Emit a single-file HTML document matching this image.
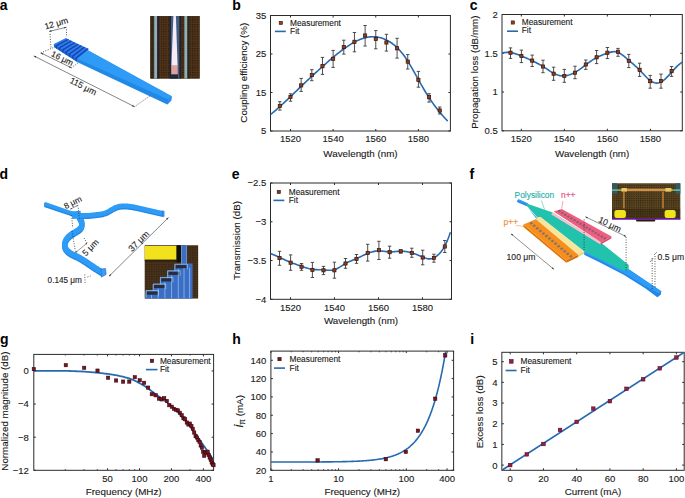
<!DOCTYPE html>
<html><head><meta charset="utf-8"><title>Figure</title>
<style>html,body{margin:0;padding:0;background:#fff;width:685px;height:498px;overflow:hidden;}body{font-family:"Liberation Sans", sans-serif;}text{font-family:"Liberation Sans", sans-serif;}</style></head><body>
<svg width="685" height="498" viewBox="0 0 685 498" font-family='"Liberation Sans", sans-serif' style="display:block">
<rect width="685" height="498" fill="#fff"/>
<polygon points="65.9,38.3 171.7,96.3 171.2,100.6 167.3,104.6 77,62 54.2,47.2 53.8,44.2" fill="#2288e6" stroke="none" stroke-width="0"/>
<polygon points="65.9,38.3 171.7,96.3 168.3,99.6 77,58.5 53.8,44.2" fill="#2e9cf6" stroke="none" stroke-width="0"/>
<polygon points="171.7,96.3 171.2,100.6 167.3,104.6 168.3,99.6" fill="#2890ee" stroke="none" stroke-width="0"/>
<polygon points="65.9,38.3 88.8,49.1 77,58.5 53.8,44.2" fill="#2f7ff0" stroke="none" stroke-width="0"/>
<polygon points="53.8,44.2 77,58.5 77,61.4 54.2,47" fill="#2467d0" stroke="none" stroke-width="0"/>
<polygon points="67.54,39.07 69.07,39.8 57.01,46.18 55.46,45.22" fill="#1846b2" stroke="none" stroke-width="0"/>
<polygon points="55.46,45.22 57.01,46.18 57.01,48.78 55.46,47.82" fill="#1a48b0" stroke="none" stroke-width="0"/>
<polygon points="70.81,40.61 72.34,41.34 60.33,48.22 58.77,47.26" fill="#1846b2" stroke="none" stroke-width="0"/>
<polygon points="58.77,47.26 60.33,48.22 60.33,50.82 58.77,49.86" fill="#1a48b0" stroke="none" stroke-width="0"/>
<polygon points="74.08,42.16 75.62,42.88 63.64,50.27 62.09,49.31" fill="#1846b2" stroke="none" stroke-width="0"/>
<polygon points="62.09,49.31 63.64,50.27 63.64,52.87 62.09,51.91" fill="#1a48b0" stroke="none" stroke-width="0"/>
<polygon points="77.35,43.7 78.89,44.43 66.96,52.31 65.4,51.35" fill="#1846b2" stroke="none" stroke-width="0"/>
<polygon points="65.4,51.35 66.96,52.31 66.96,54.91 65.4,53.95" fill="#1a48b0" stroke="none" stroke-width="0"/>
<polygon points="80.62,45.24 82.16,45.97 70.27,54.35 68.71,53.39" fill="#1846b2" stroke="none" stroke-width="0"/>
<polygon points="68.71,53.39 70.27,54.35 70.27,56.95 68.71,55.99" fill="#1a48b0" stroke="none" stroke-width="0"/>
<polygon points="83.89,46.79 85.43,47.51 73.59,56.4 72.03,55.44" fill="#1846b2" stroke="none" stroke-width="0"/>
<polygon points="72.03,55.44 73.59,56.4 73.59,59 72.03,58.04" fill="#1a48b0" stroke="none" stroke-width="0"/>
<polygon points="87.16,48.33 88.7,49.05 76.9,58.44 75.34,57.48" fill="#1846b2" stroke="none" stroke-width="0"/>
<polygon points="75.34,57.48 76.9,58.44 76.9,61.04 75.34,60.08" fill="#1a48b0" stroke="none" stroke-width="0"/>
<line x1="49.1" y1="31.4" x2="66.6" y2="27.2" stroke="#333" stroke-width="0.6"/>
<polygon points="49.1,31.4 51.63,31.66 51.24,30.02" fill="#333" stroke="none" stroke-width="0"/>
<polygon points="66.6,27.2 64.46,28.58 64.07,26.94" fill="#333" stroke="none" stroke-width="0"/>
<line x1="50" y1="34" x2="51" y2="48" stroke="#333" stroke-width="0.9" stroke-dasharray="0.9 1.6"/>
<line x1="66.5" y1="29.4" x2="66.5" y2="37" stroke="#333" stroke-width="0.9" stroke-dasharray="0.9 1.6"/>
<text transform="translate(57 26.2) rotate(-16)" text-anchor="middle" font-size="8.6" fill="#222" stroke="#222" stroke-width="0.12">12 μm</text>
<line x1="40.8" y1="52.9" x2="71.4" y2="67.8" stroke="#333" stroke-width="0.6"/>
<polygon points="40.8,52.9 42.59,54.71 43.33,53.2" fill="#333" stroke="none" stroke-width="0"/>
<polygon points="71.4,67.8 68.87,67.5 69.61,65.99" fill="#333" stroke="none" stroke-width="0"/>
<line x1="40.8" y1="52.9" x2="53.4" y2="47.6" stroke="#333" stroke-width="0.9" stroke-dasharray="0.9 1.6"/>
<line x1="71.4" y1="67.8" x2="78.5" y2="62.6" stroke="#333" stroke-width="0.9" stroke-dasharray="0.9 1.6"/>
<text transform="translate(61 61) rotate(26)" text-anchor="middle" font-size="8.4" fill="#222" stroke="#222" stroke-width="0.12">16 μm</text>
<line x1="33.8" y1="55.9" x2="134.5" y2="106.7" stroke="#333" stroke-width="0.6"/>
<polygon points="33.8,55.9 35.56,57.73 36.32,56.23" fill="#333" stroke="none" stroke-width="0"/>
<polygon points="134.5,106.7 131.98,106.37 132.74,104.87" fill="#333" stroke="none" stroke-width="0"/>
<line x1="134.5" y1="106.7" x2="150.5" y2="95.5" stroke="#333" stroke-width="0.9" stroke-dasharray="0.9 1.6"/>
<text transform="translate(81.8 89) rotate(27)" text-anchor="middle" font-size="8.8" fill="#222" stroke="#222" stroke-width="0.12">115 μm</text>
<rect x="150.3" y="16.0" width="49.3" height="62.5" fill="#4a3218"/>
<defs><pattern id="tex" width="2.4" height="2.4" patternUnits="userSpaceOnUse"><rect width="2.4" height="2.4" fill="#50341a"/><rect width="1.2" height="1.2" fill="#2a1a0c"/></pattern></defs>
<rect x="150.3" y="16.0" width="49.3" height="62.5" fill="url(#tex)"/>
<rect x="151.5" y="16.0" width="1.2" height="62.5" fill="#1f2a2a"/>
<rect x="154.2" y="16.0" width="2.8" height="62.5" fill="#8fb0b8"/>
<rect x="157.6" y="16.0" width="1.6" height="62.5" fill="#223"/>
<rect x="169.4" y="16.0" width="1.6" height="62.5" fill="#223"/>
<rect x="171.0" y="16.0" width="8.2" height="62.5" fill="#3c5f88"/>
<rect x="179.6" y="16.0" width="1.6" height="62.5" fill="#223"/>
<rect x="184.4" y="16.0" width="2.8" height="62.5" fill="#8fb0b8"/>
<rect x="188.2" y="16.0" width="1.2" height="62.5" fill="#1f2a2a"/>
<polygon points="173.4,16 175.9,16 177.6,65.8 171.4,65.8" fill="#f6eaf4" stroke="none" stroke-width="0"/>
<rect x="171.3" y="65.5" width="6.4" height="9.0" fill="#e0a09c"/>
<rect x="171.0" y="74.5" width="7.0" height="4.0" fill="#1e2a36"/>
<clipPath id="cb"><rect x="270.5" y="15.5" width="179.9" height="115.5"/></clipPath>
<rect x="270.5" y="15.5" width="179.9" height="115.5" fill="none" stroke="#2b2b2b" stroke-width="1"/>
<line x1="290.5" y1="131" x2="290.5" y2="129" stroke="#2b2b2b" stroke-width="1"/>
<line x1="290.5" y1="15.5" x2="290.5" y2="17.5" stroke="#2b2b2b" stroke-width="1"/>
<text transform="translate(290.5 142.3) scale(1 1.0)" font-size="9.5" fill="#1a1a1a" stroke="#1a1a1a" stroke-width="0.12" text-anchor="middle">1520</text>
<line x1="333.13" y1="131" x2="333.13" y2="129" stroke="#2b2b2b" stroke-width="1"/>
<line x1="333.13" y1="15.5" x2="333.13" y2="17.5" stroke="#2b2b2b" stroke-width="1"/>
<text transform="translate(333.13 142.3) scale(1 1.0)" font-size="9.5" fill="#1a1a1a" stroke="#1a1a1a" stroke-width="0.12" text-anchor="middle">1540</text>
<line x1="375.77" y1="131" x2="375.77" y2="129" stroke="#2b2b2b" stroke-width="1"/>
<line x1="375.77" y1="15.5" x2="375.77" y2="17.5" stroke="#2b2b2b" stroke-width="1"/>
<text transform="translate(375.77 142.3) scale(1 1.0)" font-size="9.5" fill="#1a1a1a" stroke="#1a1a1a" stroke-width="0.12" text-anchor="middle">1560</text>
<line x1="418.4" y1="131" x2="418.4" y2="129" stroke="#2b2b2b" stroke-width="1"/>
<line x1="418.4" y1="15.5" x2="418.4" y2="17.5" stroke="#2b2b2b" stroke-width="1"/>
<text transform="translate(418.4 142.3) scale(1 1.0)" font-size="9.5" fill="#1a1a1a" stroke="#1a1a1a" stroke-width="0.12" text-anchor="middle">1580</text>
<line x1="270.5" y1="131" x2="272.5" y2="131" stroke="#2b2b2b" stroke-width="1"/>
<line x1="450.4" y1="131" x2="448.4" y2="131" stroke="#2b2b2b" stroke-width="1"/>
<text transform="translate(266.3 134.4) scale(1 1.0)" font-size="9.5" fill="#1a1a1a" stroke="#1a1a1a" stroke-width="0.12" text-anchor="end">5</text>
<line x1="270.5" y1="92.5" x2="272.5" y2="92.5" stroke="#2b2b2b" stroke-width="1"/>
<line x1="450.4" y1="92.5" x2="448.4" y2="92.5" stroke="#2b2b2b" stroke-width="1"/>
<text transform="translate(266.3 95.9) scale(1 1.0)" font-size="9.5" fill="#1a1a1a" stroke="#1a1a1a" stroke-width="0.12" text-anchor="end">15</text>
<line x1="270.5" y1="54" x2="272.5" y2="54" stroke="#2b2b2b" stroke-width="1"/>
<line x1="450.4" y1="54" x2="448.4" y2="54" stroke="#2b2b2b" stroke-width="1"/>
<text transform="translate(266.3 57.4) scale(1 1.0)" font-size="9.5" fill="#1a1a1a" stroke="#1a1a1a" stroke-width="0.12" text-anchor="end">25</text>
<line x1="270.5" y1="15.5" x2="272.5" y2="15.5" stroke="#2b2b2b" stroke-width="1"/>
<line x1="450.4" y1="15.5" x2="448.4" y2="15.5" stroke="#2b2b2b" stroke-width="1"/>
<text transform="translate(266.3 18.9) scale(1 1.0)" font-size="9.5" fill="#1a1a1a" stroke="#1a1a1a" stroke-width="0.12" text-anchor="end">35</text>
<text transform="translate(360.45 156.5) scale(1 1.0)" font-size="9.8" fill="#1a1a1a" stroke="#1a1a1a" stroke-width="0.12" text-anchor="middle">Wavelength (nm)</text>
<text x="247.3" y="72.65" font-size="9.8" fill="#1a1a1a" stroke="#1a1a1a" stroke-width="0.12" text-anchor="middle" transform="rotate(-90 247.3 72.65)">Coupling efficiency (%)</text>
<path d="M270.5,114.5 L271.99,113.3 L273.48,112.07 L274.97,110.82 L276.46,109.54 L277.95,108.24 L279.43,106.92 L280.92,105.58 L282.41,104.22 L283.9,102.84 L285.39,101.45 L286.88,100.05 L288.37,98.64 L289.86,97.22 L291.35,95.8 L292.84,94.37 L294.33,92.93 L295.81,91.49 L297.3,90.06 L298.79,88.62 L300.28,87.19 L301.77,85.76 L303.26,84.34 L304.75,82.93 L306.24,81.52 L307.73,80.12 L309.22,78.72 L310.71,77.33 L312.19,75.95 L313.68,74.57 L315.17,73.2 L316.66,71.84 L318.15,70.48 L319.64,69.13 L321.13,67.78 L322.62,66.45 L324.11,65.11 L325.6,63.79 L327.08,62.48 L328.57,61.18 L330.06,59.89 L331.55,58.62 L333.04,57.36 L334.53,56.12 L336.02,54.9 L337.51,53.71 L339,52.53 L340.49,51.38 L341.98,50.26 L343.46,49.16 L344.95,48.09 L346.44,47.06 L347.93,46.05 L349.42,45.09 L350.91,44.16 L352.4,43.28 L353.89,42.44 L355.38,41.64 L356.87,40.9 L358.36,40.2 L359.84,39.56 L361.33,38.98 L362.82,38.45 L364.31,37.99 L365.8,37.6 L367.29,37.27 L368.78,37.01 L370.27,36.83 L371.76,36.72 L373.25,36.7 L374.74,36.76 L376.22,36.9 L377.71,37.12 L379.2,37.42 L380.69,37.8 L382.18,38.26 L383.67,38.8 L385.16,39.42 L386.65,40.11 L388.14,40.89 L389.63,41.75 L391.12,42.71 L392.6,43.76 L394.09,44.92 L395.58,46.19 L397.07,47.57 L398.56,49.07 L400.05,50.7 L401.54,52.45 L403.03,54.33 L404.52,56.33 L406.01,58.46 L407.49,60.71 L408.98,63.08 L410.47,65.57 L411.96,68.15 L413.45,70.79 L414.94,73.47 L416.43,76.16 L417.92,78.85 L419.41,81.51 L420.9,84.14 L422.39,86.71 L423.87,89.24 L425.36,91.72 L426.85,94.14 L428.34,96.48 L429.83,98.76 L431.32,100.97 L432.81,103.1 L434.3,105.17 L435.79,107.17 L437.28,109.11 L438.77,110.99 L440.25,112.81 L441.74,114.57 L443.23,116.28 L444.72,117.93 L446.21,119.54 L447.7,121.1" fill="none" stroke="#276aae" stroke-width="1.6" stroke-linejoin="round" clip-path="url(#cb)"/>
<line x1="279.84" y1="101.7" x2="279.84" y2="110.1" stroke="#3a3a3a" stroke-width="0.9"/>
<line x1="278.14" y1="101.7" x2="281.54" y2="101.7" stroke="#3a3a3a" stroke-width="0.9"/>
<line x1="278.14" y1="110.1" x2="281.54" y2="110.1" stroke="#3a3a3a" stroke-width="0.9"/>
<line x1="290.5" y1="93.8" x2="290.5" y2="101.2" stroke="#3a3a3a" stroke-width="0.9"/>
<line x1="288.8" y1="93.8" x2="292.2" y2="93.8" stroke="#3a3a3a" stroke-width="0.9"/>
<line x1="288.8" y1="101.2" x2="292.2" y2="101.2" stroke="#3a3a3a" stroke-width="0.9"/>
<line x1="301.16" y1="78.4" x2="301.16" y2="91.4" stroke="#3a3a3a" stroke-width="0.9"/>
<line x1="299.46" y1="78.4" x2="302.86" y2="78.4" stroke="#3a3a3a" stroke-width="0.9"/>
<line x1="299.46" y1="91.4" x2="302.86" y2="91.4" stroke="#3a3a3a" stroke-width="0.9"/>
<line x1="311.82" y1="69.7" x2="311.82" y2="80.7" stroke="#3a3a3a" stroke-width="0.9"/>
<line x1="310.12" y1="69.7" x2="313.52" y2="69.7" stroke="#3a3a3a" stroke-width="0.9"/>
<line x1="310.12" y1="80.7" x2="313.52" y2="80.7" stroke="#3a3a3a" stroke-width="0.9"/>
<line x1="322.47" y1="57.4" x2="322.47" y2="74.4" stroke="#3a3a3a" stroke-width="0.9"/>
<line x1="320.77" y1="57.4" x2="324.17" y2="57.4" stroke="#3a3a3a" stroke-width="0.9"/>
<line x1="320.77" y1="74.4" x2="324.17" y2="74.4" stroke="#3a3a3a" stroke-width="0.9"/>
<line x1="333.13" y1="50.4" x2="333.13" y2="67.4" stroke="#3a3a3a" stroke-width="0.9"/>
<line x1="331.43" y1="50.4" x2="334.83" y2="50.4" stroke="#3a3a3a" stroke-width="0.9"/>
<line x1="331.43" y1="67.4" x2="334.83" y2="67.4" stroke="#3a3a3a" stroke-width="0.9"/>
<line x1="343.79" y1="40.2" x2="343.79" y2="54.1" stroke="#3a3a3a" stroke-width="0.9"/>
<line x1="342.09" y1="40.2" x2="345.49" y2="40.2" stroke="#3a3a3a" stroke-width="0.9"/>
<line x1="342.09" y1="54.1" x2="345.49" y2="54.1" stroke="#3a3a3a" stroke-width="0.9"/>
<line x1="354.45" y1="32.5" x2="354.45" y2="51.8" stroke="#3a3a3a" stroke-width="0.9"/>
<line x1="352.75" y1="32.5" x2="356.15" y2="32.5" stroke="#3a3a3a" stroke-width="0.9"/>
<line x1="352.75" y1="51.8" x2="356.15" y2="51.8" stroke="#3a3a3a" stroke-width="0.9"/>
<line x1="365.11" y1="25.5" x2="365.11" y2="46" stroke="#3a3a3a" stroke-width="0.9"/>
<line x1="363.41" y1="25.5" x2="366.81" y2="25.5" stroke="#3a3a3a" stroke-width="0.9"/>
<line x1="363.41" y1="46" x2="366.81" y2="46" stroke="#3a3a3a" stroke-width="0.9"/>
<line x1="375.77" y1="30.6" x2="375.77" y2="48.8" stroke="#3a3a3a" stroke-width="0.9"/>
<line x1="374.07" y1="30.6" x2="377.47" y2="30.6" stroke="#3a3a3a" stroke-width="0.9"/>
<line x1="374.07" y1="48.8" x2="377.47" y2="48.8" stroke="#3a3a3a" stroke-width="0.9"/>
<line x1="386.42" y1="34.3" x2="386.42" y2="51.1" stroke="#3a3a3a" stroke-width="0.9"/>
<line x1="384.72" y1="34.3" x2="388.12" y2="34.3" stroke="#3a3a3a" stroke-width="0.9"/>
<line x1="384.72" y1="51.1" x2="388.12" y2="51.1" stroke="#3a3a3a" stroke-width="0.9"/>
<line x1="397.08" y1="38.3" x2="397.08" y2="58.1" stroke="#3a3a3a" stroke-width="0.9"/>
<line x1="395.38" y1="38.3" x2="398.78" y2="38.3" stroke="#3a3a3a" stroke-width="0.9"/>
<line x1="395.38" y1="58.1" x2="398.78" y2="58.1" stroke="#3a3a3a" stroke-width="0.9"/>
<line x1="407.74" y1="54.6" x2="407.74" y2="69" stroke="#3a3a3a" stroke-width="0.9"/>
<line x1="406.04" y1="54.6" x2="409.44" y2="54.6" stroke="#3a3a3a" stroke-width="0.9"/>
<line x1="406.04" y1="69" x2="409.44" y2="69" stroke="#3a3a3a" stroke-width="0.9"/>
<line x1="418.4" y1="71.4" x2="418.4" y2="87.2" stroke="#3a3a3a" stroke-width="0.9"/>
<line x1="416.7" y1="71.4" x2="420.1" y2="71.4" stroke="#3a3a3a" stroke-width="0.9"/>
<line x1="416.7" y1="87.2" x2="420.1" y2="87.2" stroke="#3a3a3a" stroke-width="0.9"/>
<line x1="429.06" y1="93.7" x2="429.06" y2="102.1" stroke="#3a3a3a" stroke-width="0.9"/>
<line x1="427.36" y1="93.7" x2="430.76" y2="93.7" stroke="#3a3a3a" stroke-width="0.9"/>
<line x1="427.36" y1="102.1" x2="430.76" y2="102.1" stroke="#3a3a3a" stroke-width="0.9"/>
<line x1="439.72" y1="107" x2="439.72" y2="114" stroke="#3a3a3a" stroke-width="0.9"/>
<line x1="438.02" y1="107" x2="441.42" y2="107" stroke="#3a3a3a" stroke-width="0.9"/>
<line x1="438.02" y1="114" x2="441.42" y2="114" stroke="#3a3a3a" stroke-width="0.9"/>
<rect x="278.24" y="104.3" width="3.2" height="3.2" fill="#9c3a1c" stroke="#2a140c" stroke-width="0.7"/>
<rect x="288.9" y="95.4" width="3.2" height="3.2" fill="#9c3a1c" stroke="#2a140c" stroke-width="0.7"/>
<rect x="299.56" y="83.8" width="3.2" height="3.2" fill="#9c3a1c" stroke="#2a140c" stroke-width="0.7"/>
<rect x="310.22" y="73.5" width="3.2" height="3.2" fill="#9c3a1c" stroke="#2a140c" stroke-width="0.7"/>
<rect x="320.87" y="64.6" width="3.2" height="3.2" fill="#9c3a1c" stroke="#2a140c" stroke-width="0.7"/>
<rect x="331.53" y="57.2" width="3.2" height="3.2" fill="#9c3a1c" stroke="#2a140c" stroke-width="0.7"/>
<rect x="342.19" y="45.5" width="3.2" height="3.2" fill="#9c3a1c" stroke="#2a140c" stroke-width="0.7"/>
<rect x="352.85" y="40.2" width="3.2" height="3.2" fill="#9c3a1c" stroke="#2a140c" stroke-width="0.7"/>
<rect x="363.51" y="33.9" width="3.2" height="3.2" fill="#9c3a1c" stroke="#2a140c" stroke-width="0.7"/>
<rect x="374.17" y="37.4" width="3.2" height="3.2" fill="#9c3a1c" stroke="#2a140c" stroke-width="0.7"/>
<rect x="384.82" y="40.9" width="3.2" height="3.2" fill="#9c3a1c" stroke="#2a140c" stroke-width="0.7"/>
<rect x="395.48" y="46.7" width="3.2" height="3.2" fill="#9c3a1c" stroke="#2a140c" stroke-width="0.7"/>
<rect x="406.14" y="60" width="3.2" height="3.2" fill="#9c3a1c" stroke="#2a140c" stroke-width="0.7"/>
<rect x="416.8" y="78.2" width="3.2" height="3.2" fill="#9c3a1c" stroke="#2a140c" stroke-width="0.7"/>
<rect x="427.46" y="95.6" width="3.2" height="3.2" fill="#9c3a1c" stroke="#2a140c" stroke-width="0.7"/>
<rect x="438.12" y="108.9" width="3.2" height="3.2" fill="#9c3a1c" stroke="#2a140c" stroke-width="0.7"/>
<rect x="279.2" y="21.3" width="3.2" height="3.2" fill="#9c3a1c" stroke="#2a140c" stroke-width="0.6"/>
<line x1="274.9" y1="31.4" x2="285.8" y2="31.4" stroke="#276aae" stroke-width="1.6"/>
<text x="290.1" y="25.7" font-size="8.3" fill="#1a1a1a" stroke="#1a1a1a" stroke-width="0.12">Measurement</text>
<text x="290.1" y="33.7" font-size="8.3" fill="#1a1a1a" stroke="#1a1a1a" stroke-width="0.12">Fit</text>
<clipPath id="cc"><rect x="502" y="14.5" width="180.3" height="116.3"/></clipPath>
<rect x="502" y="14.5" width="180.3" height="116.3" fill="none" stroke="#2b2b2b" stroke-width="1"/>
<line x1="521.3" y1="130.8" x2="521.3" y2="128.8" stroke="#2b2b2b" stroke-width="1"/>
<line x1="521.3" y1="14.5" x2="521.3" y2="16.5" stroke="#2b2b2b" stroke-width="1"/>
<text transform="translate(521.3 142.3) scale(1 1.0)" font-size="9.5" fill="#1a1a1a" stroke="#1a1a1a" stroke-width="0.12" text-anchor="middle">1520</text>
<line x1="564.33" y1="130.8" x2="564.33" y2="128.8" stroke="#2b2b2b" stroke-width="1"/>
<line x1="564.33" y1="14.5" x2="564.33" y2="16.5" stroke="#2b2b2b" stroke-width="1"/>
<text transform="translate(564.33 142.3) scale(1 1.0)" font-size="9.5" fill="#1a1a1a" stroke="#1a1a1a" stroke-width="0.12" text-anchor="middle">1540</text>
<line x1="607.37" y1="130.8" x2="607.37" y2="128.8" stroke="#2b2b2b" stroke-width="1"/>
<line x1="607.37" y1="14.5" x2="607.37" y2="16.5" stroke="#2b2b2b" stroke-width="1"/>
<text transform="translate(607.37 142.3) scale(1 1.0)" font-size="9.5" fill="#1a1a1a" stroke="#1a1a1a" stroke-width="0.12" text-anchor="middle">1560</text>
<line x1="650.4" y1="130.8" x2="650.4" y2="128.8" stroke="#2b2b2b" stroke-width="1"/>
<line x1="650.4" y1="14.5" x2="650.4" y2="16.5" stroke="#2b2b2b" stroke-width="1"/>
<text transform="translate(650.4 142.3) scale(1 1.0)" font-size="9.5" fill="#1a1a1a" stroke="#1a1a1a" stroke-width="0.12" text-anchor="middle">1580</text>
<line x1="502" y1="130.8" x2="504" y2="130.8" stroke="#2b2b2b" stroke-width="1"/>
<line x1="682.3" y1="130.8" x2="680.3" y2="130.8" stroke="#2b2b2b" stroke-width="1"/>
<text transform="translate(497.8 134.2) scale(1 1.0)" font-size="9.5" fill="#1a1a1a" stroke="#1a1a1a" stroke-width="0.12" text-anchor="end">0.5</text>
<line x1="502" y1="92.03" x2="504" y2="92.03" stroke="#2b2b2b" stroke-width="1"/>
<line x1="682.3" y1="92.03" x2="680.3" y2="92.03" stroke="#2b2b2b" stroke-width="1"/>
<text transform="translate(497.8 95.43) scale(1 1.0)" font-size="9.5" fill="#1a1a1a" stroke="#1a1a1a" stroke-width="0.12" text-anchor="end">1</text>
<line x1="502" y1="53.27" x2="504" y2="53.27" stroke="#2b2b2b" stroke-width="1"/>
<line x1="682.3" y1="53.27" x2="680.3" y2="53.27" stroke="#2b2b2b" stroke-width="1"/>
<text transform="translate(497.8 56.67) scale(1 1.0)" font-size="9.5" fill="#1a1a1a" stroke="#1a1a1a" stroke-width="0.12" text-anchor="end">1.5</text>
<line x1="502" y1="14.5" x2="504" y2="14.5" stroke="#2b2b2b" stroke-width="1"/>
<line x1="682.3" y1="14.5" x2="680.3" y2="14.5" stroke="#2b2b2b" stroke-width="1"/>
<text transform="translate(497.8 17.9) scale(1 1.0)" font-size="9.5" fill="#1a1a1a" stroke="#1a1a1a" stroke-width="0.12" text-anchor="end">2</text>
<text transform="translate(592.15 156.5) scale(1 1.0)" font-size="9.8" fill="#1a1a1a" stroke="#1a1a1a" stroke-width="0.12" text-anchor="middle">Wavelength (nm)</text>
<text x="478.2" y="72.15" font-size="9.8" fill="#1a1a1a" stroke="#1a1a1a" stroke-width="0.12" text-anchor="middle" transform="rotate(-90 478.2 72.15)">Propagation loss (dB/mm)</text>
<path d="M502,53.2 L503.21,52.85 L504.42,52.6 L505.63,52.44 L506.84,52.37 L508.05,52.37 L509.26,52.45 L510.47,52.6 L511.68,52.8 L512.89,53.06 L514.1,53.38 L515.31,53.73 L516.52,54.13 L517.73,54.56 L518.94,55.01 L520.15,55.49 L521.36,55.98 L522.57,56.49 L523.78,57 L524.99,57.52 L526.2,58.06 L527.41,58.59 L528.62,59.14 L529.83,59.7 L531.04,60.26 L532.25,60.82 L533.46,61.4 L534.67,61.98 L535.88,62.58 L537.09,63.19 L538.3,63.82 L539.51,64.47 L540.72,65.15 L541.93,65.85 L543.14,66.59 L544.35,67.36 L545.56,68.15 L546.77,68.95 L547.98,69.75 L549.19,70.55 L550.4,71.33 L551.61,72.07 L552.82,72.77 L554.03,73.43 L555.24,74.02 L556.45,74.54 L557.66,74.99 L558.87,75.35 L560.08,75.62 L561.29,75.79 L562.5,75.86 L563.71,75.85 L564.92,75.76 L566.13,75.59 L567.34,75.36 L568.55,75.05 L569.76,74.69 L570.97,74.27 L572.18,73.78 L573.39,73.23 L574.6,72.62 L575.81,71.93 L577.02,71.19 L578.23,70.4 L579.44,69.56 L580.65,68.69 L581.86,67.79 L583.07,66.88 L584.28,65.95 L585.49,65.03 L586.7,64.12 L587.91,63.22 L589.12,62.34 L590.33,61.49 L591.54,60.66 L592.76,59.87 L593.97,59.11 L595.18,58.39 L596.39,57.71 L597.6,57.09 L598.81,56.5 L600.02,55.96 L601.23,55.45 L602.44,54.97 L603.65,54.52 L604.86,54.08 L606.07,53.66 L607.28,53.24 L608.49,52.83 L609.7,52.45 L610.91,52.11 L612.12,51.85 L613.33,51.69 L614.54,51.65 L615.75,51.76 L616.96,52.03 L618.17,52.47 L619.38,53.05 L620.59,53.76 L621.8,54.58 L623.01,55.48 L624.22,56.44 L625.43,57.46 L626.64,58.51 L627.85,59.57 L629.06,60.62 L630.27,61.66 L631.48,62.68 L632.69,63.7 L633.9,64.73 L635.11,65.78 L636.32,66.86 L637.53,67.98 L638.74,69.14 L639.95,70.36 L641.16,71.63 L642.37,72.94 L643.58,74.25 L644.79,75.56 L646,76.82 L647.21,78.03 L648.42,79.15 L649.63,80.17 L650.84,81.05 L652.05,81.78 L653.26,82.36 L654.47,82.78 L655.68,83.02 L656.89,83.09 L658.1,82.98 L659.31,82.69 L660.52,82.23 L661.73,81.6 L662.94,80.81 L664.15,79.87 L665.36,78.82 L666.57,77.67 L667.78,76.43 L668.99,75.13 L670.2,73.78 L671.41,72.42 L672.62,71.04 L673.83,69.68 L675.04,68.36 L676.25,67.09 L677.46,65.89 L678.67,64.78 L679.88,63.78 L681.09,62.92 L682.3,62.2" fill="none" stroke="#276aae" stroke-width="1.6" stroke-linejoin="round" clip-path="url(#cc)"/>
<line x1="510.5" y1="47.9" x2="510.5" y2="58.4" stroke="#3a3a3a" stroke-width="0.9"/>
<line x1="508.8" y1="47.9" x2="512.2" y2="47.9" stroke="#3a3a3a" stroke-width="0.9"/>
<line x1="508.8" y1="58.4" x2="512.2" y2="58.4" stroke="#3a3a3a" stroke-width="0.9"/>
<line x1="521.4" y1="50.1" x2="521.4" y2="62.6" stroke="#3a3a3a" stroke-width="0.9"/>
<line x1="519.7" y1="50.1" x2="523.1" y2="50.1" stroke="#3a3a3a" stroke-width="0.9"/>
<line x1="519.7" y1="62.6" x2="523.1" y2="62.6" stroke="#3a3a3a" stroke-width="0.9"/>
<line x1="532.2" y1="55.1" x2="532.2" y2="66.5" stroke="#3a3a3a" stroke-width="0.9"/>
<line x1="530.5" y1="55.1" x2="533.9" y2="55.1" stroke="#3a3a3a" stroke-width="0.9"/>
<line x1="530.5" y1="66.5" x2="533.9" y2="66.5" stroke="#3a3a3a" stroke-width="0.9"/>
<line x1="543" y1="60.2" x2="543" y2="72.7" stroke="#3a3a3a" stroke-width="0.9"/>
<line x1="541.3" y1="60.2" x2="544.7" y2="60.2" stroke="#3a3a3a" stroke-width="0.9"/>
<line x1="541.3" y1="72.7" x2="544.7" y2="72.7" stroke="#3a3a3a" stroke-width="0.9"/>
<line x1="553.6" y1="67.2" x2="553.6" y2="80.3" stroke="#3a3a3a" stroke-width="0.9"/>
<line x1="551.9" y1="67.2" x2="555.3" y2="67.2" stroke="#3a3a3a" stroke-width="0.9"/>
<line x1="551.9" y1="80.3" x2="555.3" y2="80.3" stroke="#3a3a3a" stroke-width="0.9"/>
<line x1="564.3" y1="69.4" x2="564.3" y2="82.3" stroke="#3a3a3a" stroke-width="0.9"/>
<line x1="562.6" y1="69.4" x2="566" y2="69.4" stroke="#3a3a3a" stroke-width="0.9"/>
<line x1="562.6" y1="82.3" x2="566" y2="82.3" stroke="#3a3a3a" stroke-width="0.9"/>
<line x1="575" y1="66.2" x2="575" y2="78.7" stroke="#3a3a3a" stroke-width="0.9"/>
<line x1="573.3" y1="66.2" x2="576.7" y2="66.2" stroke="#3a3a3a" stroke-width="0.9"/>
<line x1="573.3" y1="78.7" x2="576.7" y2="78.7" stroke="#3a3a3a" stroke-width="0.9"/>
<line x1="585.8" y1="60" x2="585.8" y2="69.4" stroke="#3a3a3a" stroke-width="0.9"/>
<line x1="584.1" y1="60" x2="587.5" y2="60" stroke="#3a3a3a" stroke-width="0.9"/>
<line x1="584.1" y1="69.4" x2="587.5" y2="69.4" stroke="#3a3a3a" stroke-width="0.9"/>
<line x1="596.6" y1="50.5" x2="596.6" y2="63.6" stroke="#3a3a3a" stroke-width="0.9"/>
<line x1="594.9" y1="50.5" x2="598.3" y2="50.5" stroke="#3a3a3a" stroke-width="0.9"/>
<line x1="594.9" y1="63.6" x2="598.3" y2="63.6" stroke="#3a3a3a" stroke-width="0.9"/>
<line x1="607.4" y1="47.5" x2="607.4" y2="58.6" stroke="#3a3a3a" stroke-width="0.9"/>
<line x1="605.7" y1="47.5" x2="609.1" y2="47.5" stroke="#3a3a3a" stroke-width="0.9"/>
<line x1="605.7" y1="58.6" x2="609.1" y2="58.6" stroke="#3a3a3a" stroke-width="0.9"/>
<line x1="618" y1="48.4" x2="618" y2="56.3" stroke="#3a3a3a" stroke-width="0.9"/>
<line x1="616.3" y1="48.4" x2="619.7" y2="48.4" stroke="#3a3a3a" stroke-width="0.9"/>
<line x1="616.3" y1="56.3" x2="619.7" y2="56.3" stroke="#3a3a3a" stroke-width="0.9"/>
<line x1="628.8" y1="54.4" x2="628.8" y2="67.6" stroke="#3a3a3a" stroke-width="0.9"/>
<line x1="627.1" y1="54.4" x2="630.5" y2="54.4" stroke="#3a3a3a" stroke-width="0.9"/>
<line x1="627.1" y1="67.6" x2="630.5" y2="67.6" stroke="#3a3a3a" stroke-width="0.9"/>
<line x1="639.6" y1="63.2" x2="639.6" y2="76.4" stroke="#3a3a3a" stroke-width="0.9"/>
<line x1="637.9" y1="63.2" x2="641.3" y2="63.2" stroke="#3a3a3a" stroke-width="0.9"/>
<line x1="637.9" y1="76.4" x2="641.3" y2="76.4" stroke="#3a3a3a" stroke-width="0.9"/>
<line x1="650.2" y1="75.4" x2="650.2" y2="88.2" stroke="#3a3a3a" stroke-width="0.9"/>
<line x1="648.5" y1="75.4" x2="651.9" y2="75.4" stroke="#3a3a3a" stroke-width="0.9"/>
<line x1="648.5" y1="88.2" x2="651.9" y2="88.2" stroke="#3a3a3a" stroke-width="0.9"/>
<line x1="661" y1="74.1" x2="661" y2="88.2" stroke="#3a3a3a" stroke-width="0.9"/>
<line x1="659.3" y1="74.1" x2="662.7" y2="74.1" stroke="#3a3a3a" stroke-width="0.9"/>
<line x1="659.3" y1="88.2" x2="662.7" y2="88.2" stroke="#3a3a3a" stroke-width="0.9"/>
<line x1="671.6" y1="66.5" x2="671.6" y2="76.4" stroke="#3a3a3a" stroke-width="0.9"/>
<line x1="669.9" y1="66.5" x2="673.3" y2="66.5" stroke="#3a3a3a" stroke-width="0.9"/>
<line x1="669.9" y1="76.4" x2="673.3" y2="76.4" stroke="#3a3a3a" stroke-width="0.9"/>
<rect x="508.9" y="51.1" width="3.2" height="3.2" fill="#9c3a1c" stroke="#2a140c" stroke-width="0.7"/>
<rect x="519.8" y="54.4" width="3.2" height="3.2" fill="#9c3a1c" stroke="#2a140c" stroke-width="0.7"/>
<rect x="530.6" y="59" width="3.2" height="3.2" fill="#9c3a1c" stroke="#2a140c" stroke-width="0.7"/>
<rect x="541.4" y="64.9" width="3.2" height="3.2" fill="#9c3a1c" stroke="#2a140c" stroke-width="0.7"/>
<rect x="552" y="72.1" width="3.2" height="3.2" fill="#9c3a1c" stroke="#2a140c" stroke-width="0.7"/>
<rect x="562.7" y="74.4" width="3.2" height="3.2" fill="#9c3a1c" stroke="#2a140c" stroke-width="0.7"/>
<rect x="573.4" y="71.1" width="3.2" height="3.2" fill="#9c3a1c" stroke="#2a140c" stroke-width="0.7"/>
<rect x="584.2" y="62.9" width="3.2" height="3.2" fill="#9c3a1c" stroke="#2a140c" stroke-width="0.7"/>
<rect x="595" y="55.7" width="3.2" height="3.2" fill="#9c3a1c" stroke="#2a140c" stroke-width="0.7"/>
<rect x="605.8" y="51.1" width="3.2" height="3.2" fill="#9c3a1c" stroke="#2a140c" stroke-width="0.7"/>
<rect x="616.4" y="50.2" width="3.2" height="3.2" fill="#9c3a1c" stroke="#2a140c" stroke-width="0.7"/>
<rect x="627.2" y="59.3" width="3.2" height="3.2" fill="#9c3a1c" stroke="#2a140c" stroke-width="0.7"/>
<rect x="638" y="68.2" width="3.2" height="3.2" fill="#9c3a1c" stroke="#2a140c" stroke-width="0.7"/>
<rect x="648.6" y="79.6" width="3.2" height="3.2" fill="#9c3a1c" stroke="#2a140c" stroke-width="0.7"/>
<rect x="659.4" y="79.4" width="3.2" height="3.2" fill="#9c3a1c" stroke="#2a140c" stroke-width="0.7"/>
<rect x="670" y="69.5" width="3.2" height="3.2" fill="#9c3a1c" stroke="#2a140c" stroke-width="0.7"/>
<rect x="511.2" y="20.9" width="3.2" height="3.2" fill="#9c3a1c" stroke="#2a140c" stroke-width="0.6"/>
<line x1="507" y1="31.2" x2="518" y2="31.2" stroke="#276aae" stroke-width="1.6"/>
<text x="521.8" y="25.3" font-size="8.3" fill="#1a1a1a" stroke="#1a1a1a" stroke-width="0.12">Measurement</text>
<text x="521.8" y="33.3" font-size="8.3" fill="#1a1a1a" stroke="#1a1a1a" stroke-width="0.12">Fit</text>
<path d="M44.6,203.8 L70.7,212.6 L79,215.2" fill="none" stroke="#2288e6" stroke-width="3.6" stroke-linejoin="round" transform="translate(0 1.5)"/>
<path d="M44.6,203.8 L70.7,212.6 L79,215.2" fill="none" stroke="#2e9cf6" stroke-width="3.6" stroke-linejoin="round"/>
<path d="M78.6,216 L79.27,216.71 L79.9,217.55 L80.46,218.49 L80.95,219.51 L81.35,220.59 L81.65,221.71 L81.82,222.84 L81.87,223.97 L81.77,225.05 L81.51,226.08 L81.07,227.04 L80.46,227.9 L79.72,228.68 L78.87,229.39 L77.97,230.05 L77.04,230.67 L76.11,231.25 L75.18,231.81 L74.26,232.37 L73.34,232.92 L72.44,233.49 L71.54,234.07 L70.67,234.69 L69.82,235.34 L69,236.05 L68.22,236.8 L67.49,237.61 L66.82,238.47 L66.22,239.38 L65.71,240.35 L65.3,241.37 L64.99,242.44 L64.81,243.53 L64.75,244.63 L64.84,245.71 L65.07,246.76 L65.46,247.76 L65.98,248.71 L66.62,249.61 L67.35,250.44 L68.15,251.21 L68.99,251.91 L69.88,252.54 L70.79,253.12 L71.73,253.65 L72.69,254.15 L73.66,254.62 L74.64,255.08 L75.61,255.53 L76.59,255.99 L77.55,256.47 L78.51,256.97 L79.46,257.48 L80.39,258.01 L81.32,258.56 L82.25,259.11 L83.17,259.68 L84.08,260.25 L84.99,260.84 L85.89,261.43 L86.79,262.03 L87.69,262.63 L88.58,263.23 L89.48,263.84 L90.37,264.45 L91.26,265.06 L92.16,265.67 L93.05,266.28 L93.95,266.88 L94.85,267.48 L95.76,268.07 L96.67,268.65 L97.58,269.22 L98.5,269.78 L99.42,270.33 L100.36,270.87 L101.29,271.4 L102.24,271.91 L103.2,272.4" fill="none" stroke="#2288e6" stroke-width="5.6" stroke-linejoin="round" transform="translate(0 1.6)"/>
<path d="M78.6,216 L79.27,216.71 L79.9,217.55 L80.46,218.49 L80.95,219.51 L81.35,220.59 L81.65,221.71 L81.82,222.84 L81.87,223.97 L81.77,225.05 L81.51,226.08 L81.07,227.04 L80.46,227.9 L79.72,228.68 L78.87,229.39 L77.97,230.05 L77.04,230.67 L76.11,231.25 L75.18,231.81 L74.26,232.37 L73.34,232.92 L72.44,233.49 L71.54,234.07 L70.67,234.69 L69.82,235.34 L69,236.05 L68.22,236.8 L67.49,237.61 L66.82,238.47 L66.22,239.38 L65.71,240.35 L65.3,241.37 L64.99,242.44 L64.81,243.53 L64.75,244.63 L64.84,245.71 L65.07,246.76 L65.46,247.76 L65.98,248.71 L66.62,249.61 L67.35,250.44 L68.15,251.21 L68.99,251.91 L69.88,252.54 L70.79,253.12 L71.73,253.65 L72.69,254.15 L73.66,254.62 L74.64,255.08 L75.61,255.53 L76.59,255.99 L77.55,256.47 L78.51,256.97 L79.46,257.48 L80.39,258.01 L81.32,258.56 L82.25,259.11 L83.17,259.68 L84.08,260.25 L84.99,260.84 L85.89,261.43 L86.79,262.03 L87.69,262.63 L88.58,263.23 L89.48,263.84 L90.37,264.45 L91.26,265.06 L92.16,265.67 L93.05,266.28 L93.95,266.88 L94.85,267.48 L95.76,268.07 L96.67,268.65 L97.58,269.22 L98.5,269.78 L99.42,270.33 L100.36,270.87 L101.29,271.4 L102.24,271.91 L103.2,272.4" fill="none" stroke="#2e9cf6" stroke-width="5.6" stroke-linejoin="round"/>
<path d="M78,214.8 L79.11,215.01 L80.22,215.17 L81.33,215.29 L82.44,215.37 L83.54,215.41 L84.64,215.42 L85.75,215.41 L86.85,215.37 L87.95,215.3 L89.05,215.22 L90.15,215.12 L91.26,215.01 L92.36,214.9 L93.47,214.77 L94.58,214.65 L95.7,214.52 L96.81,214.4 L97.93,214.26 L99.04,214.11 L100.14,213.95 L101.24,213.75 L102.33,213.53 L103.4,213.26 L104.46,212.95 L105.5,212.6 L106.52,212.18 L107.52,211.71 L108.51,211.2 L109.48,210.66 L110.45,210.1 L111.42,209.53 L112.38,208.97 L113.36,208.42 L114.34,207.9 L115.34,207.43 L116.35,207 L117.39,206.64 L118.45,206.34 L119.53,206.11 L120.62,205.94 L121.73,205.82 L122.85,205.75 L123.98,205.72 L125.11,205.73 L126.24,205.78 L127.36,205.86 L128.48,205.97 L129.59,206.09 L130.7,206.24 L131.79,206.41 L132.89,206.59 L133.98,206.79 L135.06,207 L136.15,207.22 L137.23,207.45 L138.31,207.69 L139.39,207.93 L140.47,208.18 L141.55,208.42 L142.63,208.67 L143.71,208.92 L144.79,209.18 L145.87,209.43 L146.95,209.68 L148.03,209.94 L149.12,210.19 L150.2,210.45 L151.28,210.7 L152.36,210.95 L153.44,211.2 L154.53,211.45 L155.61,211.69 L156.69,211.94 L157.78,212.17 L158.86,212.41 L159.94,212.64 L161.03,212.86 L162.11,213.08 L163.2,213.3" fill="none" stroke="#2288e6" stroke-width="4.6" stroke-linejoin="round" transform="translate(0 1.4)"/>
<path d="M78,214.8 L79.11,215.01 L80.22,215.17 L81.33,215.29 L82.44,215.37 L83.54,215.41 L84.64,215.42 L85.75,215.41 L86.85,215.37 L87.95,215.3 L89.05,215.22 L90.15,215.12 L91.26,215.01 L92.36,214.9 L93.47,214.77 L94.58,214.65 L95.7,214.52 L96.81,214.4 L97.93,214.26 L99.04,214.11 L100.14,213.95 L101.24,213.75 L102.33,213.53 L103.4,213.26 L104.46,212.95 L105.5,212.6 L106.52,212.18 L107.52,211.71 L108.51,211.2 L109.48,210.66 L110.45,210.1 L111.42,209.53 L112.38,208.97 L113.36,208.42 L114.34,207.9 L115.34,207.43 L116.35,207 L117.39,206.64 L118.45,206.34 L119.53,206.11 L120.62,205.94 L121.73,205.82 L122.85,205.75 L123.98,205.72 L125.11,205.73 L126.24,205.78 L127.36,205.86 L128.48,205.97 L129.59,206.09 L130.7,206.24 L131.79,206.41 L132.89,206.59 L133.98,206.79 L135.06,207 L136.15,207.22 L137.23,207.45 L138.31,207.69 L139.39,207.93 L140.47,208.18 L141.55,208.42 L142.63,208.67 L143.71,208.92 L144.79,209.18 L145.87,209.43 L146.95,209.68 L148.03,209.94 L149.12,210.19 L150.2,210.45 L151.28,210.7 L152.36,210.95 L153.44,211.2 L154.53,211.45 L155.61,211.69 L156.69,211.94 L157.78,212.17 L158.86,212.41 L159.94,212.64 L161.03,212.86 L162.11,213.08 L163.2,213.3" fill="none" stroke="#2e9cf6" stroke-width="4.6" stroke-linejoin="round"/>
<polygon points="71,211.6 80.5,210.8 81.5,218.5 72.5,219" fill="#2e9cf6" stroke="none" stroke-width="0"/>
<polygon points="101,269 105.6,268.4 106.2,274.4 101.4,277.2" fill="#3d9cf2" stroke="#1f5fc0" stroke-width="0.5"/>
<polygon points="162.4,210.8 164.2,211.2 164.2,216.4 162.4,216.4" fill="#3d9cf2" stroke="#1f5fc0" stroke-width="0.4"/>
<polygon points="44,202.6 45,203 45,206.6 44,206.2" fill="#3d9cf2" stroke="none" stroke-width="0"/>
<line x1="70.1" y1="209.3" x2="78.3" y2="205.2" stroke="#333" stroke-width="0.5"/>
<polygon points="70.1,209.3 71.99,209.06 71.43,207.93" fill="#333" stroke="none" stroke-width="0"/>
<polygon points="78.3,205.2 76.97,206.57 76.41,205.44" fill="#333" stroke="none" stroke-width="0"/>
<text transform="translate(74 205) rotate(-27)" text-anchor="middle" font-size="8.4" fill="#222" stroke="#222" stroke-width="0.12">8 μm</text>
<line x1="71.7" y1="215.4" x2="72.7" y2="228" stroke="#333" stroke-width="0.9" stroke-dasharray="0.9 1.6"/>
<line x1="78.3" y1="207.8" x2="79.3" y2="219.5" stroke="#333" stroke-width="0.9" stroke-dasharray="0.9 1.6"/>
<line x1="75.6" y1="252.6" x2="87.1" y2="243" stroke="#333" stroke-width="0.5"/>
<polygon points="75.6,252.6 77.39,251.93 76.58,250.96" fill="#333" stroke="none" stroke-width="0"/>
<polygon points="87.1,243 86.12,244.64 85.31,243.67" fill="#333" stroke="none" stroke-width="0"/>
<line x1="72" y1="231" x2="75.6" y2="252.6" stroke="#333" stroke-width="0.9" stroke-dasharray="0.9 1.6"/>
<line x1="87.1" y1="243" x2="84" y2="238" stroke="#333" stroke-width="0.9" stroke-dasharray="0.9 1.6"/>
<text transform="translate(92.5 249.6) rotate(-45)" text-anchor="middle" font-size="8.6" fill="#222" stroke="#222" stroke-width="0.12">5 μm</text>
<line x1="109" y1="276.3" x2="168.5" y2="217.5" stroke="#333" stroke-width="0.6"/>
<polygon points="109,276.3 111.3,275.21 110.12,274.02" fill="#333" stroke="none" stroke-width="0"/>
<polygon points="168.5,217.5 167.38,219.78 166.2,218.59" fill="#333" stroke="none" stroke-width="0"/>
<text transform="translate(140.8 243.4) rotate(-45)" text-anchor="middle" font-size="9.0" fill="#222" stroke="#222" stroke-width="0.12">37 μm</text>
<text x="47.6" y="283.4" font-size="8.2" fill="#222" stroke="#222" stroke-width="0.12">0.145 μm</text>
<line x1="84.8" y1="274.5" x2="85.2" y2="284.5" stroke="#333" stroke-width="0.9" stroke-dasharray="0.9 1.6"/>
<line x1="87.5" y1="277" x2="90.5" y2="276" stroke="#333" stroke-width="0.9" stroke-dasharray="0.9 1.6"/>
<rect x="144.8" y="245.4" width="53.3" height="53" fill="#3e2f1c"/>
<rect x="144.8" y="245.4" width="53.3" height="53" fill="url(#tex)" opacity="0.6"/>
<rect x="144.8" y="246.0" width="31.9" height="14.5" fill="#f2e21e"/>
<rect x="176.7" y="245.4" width="3.2" height="17" fill="#111"/>
<rect x="176.7" y="245.4" width="4.8" height="16.5" fill="#120d06"/>
<rect x="144.8" y="259.6" width="32.4" height="1.8" fill="#2a1c0a"/>
<polygon points="145.3,298.4 146,290.6 153.2,290.6 153.2,284 160.4,284 160.4,277.4 167.6,277.4 167.6,270.8 174.8,270.8 174.8,264.2 181.5,264.2 181.5,245.4 186.6,245.4 186.6,263.6 192.6,263.6 192.6,298.4" fill="#3d6ec6" stroke="none" stroke-width="0"/>
<rect x="146.8" y="291.5" width="11" height="3.2" fill="#2b2a38"/>
<path d="M146,297.6 V290.6 H158.5 V295.6" fill="none" stroke="#8cc8f2" stroke-width="0.8"/>
<rect x="154" y="284.9" width="11" height="3.2" fill="#2b2a38"/>
<path d="M153.2,291 V284 H165.7 V289" fill="none" stroke="#8cc8f2" stroke-width="0.8"/>
<rect x="161.2" y="278.3" width="11" height="3.2" fill="#2b2a38"/>
<path d="M160.4,284.4 V277.4 H172.9 V282.4" fill="none" stroke="#8cc8f2" stroke-width="0.8"/>
<rect x="168.4" y="271.7" width="11" height="3.2" fill="#2b2a38"/>
<path d="M167.6,277.8 V270.8 H180.1 V275.8" fill="none" stroke="#8cc8f2" stroke-width="0.8"/>
<rect x="175.6" y="265.1" width="11" height="3.2" fill="#2b2a38"/>
<path d="M174.8,271.2 V264.2 H187.3 V269.2" fill="none" stroke="#8cc8f2" stroke-width="0.8"/>
<line x1="151.5" y1="295.1" x2="151.5" y2="298.4" stroke="#a8d8f6" stroke-width="0.6"/>
<line x1="158.2" y1="288.5" x2="158.2" y2="298.4" stroke="#a8d8f6" stroke-width="0.6"/>
<line x1="164.9" y1="281.9" x2="164.9" y2="298.4" stroke="#a8d8f6" stroke-width="0.6"/>
<line x1="171.6" y1="275.3" x2="171.6" y2="298.4" stroke="#a8d8f6" stroke-width="0.6"/>
<line x1="178.3" y1="268.7" x2="178.3" y2="298.4" stroke="#a8d8f6" stroke-width="0.6"/>
<line x1="184" y1="268.1" x2="184" y2="298.4" stroke="#a8d8f6" stroke-width="0.6"/>
<line x1="189.6" y1="268.1" x2="189.6" y2="298.4" stroke="#a8d8f6" stroke-width="0.6"/>
<path d="M181.5,245.4 V263.6 M186.6,245.4 V263.6" stroke="#8cc8f2" stroke-width="0.6"/>
<clipPath id="ce"><rect x="270.5" y="183" width="181" height="116.3"/></clipPath>
<rect x="270.5" y="183" width="181" height="116.3" fill="none" stroke="#2b2b2b" stroke-width="1"/>
<line x1="290.5" y1="299.3" x2="290.5" y2="297.3" stroke="#2b2b2b" stroke-width="1"/>
<line x1="290.5" y1="183" x2="290.5" y2="185" stroke="#2b2b2b" stroke-width="1"/>
<text transform="translate(290.5 310.5) scale(1 1.0)" font-size="9.5" fill="#1a1a1a" stroke="#1a1a1a" stroke-width="0.12" text-anchor="middle">1520</text>
<line x1="334.5" y1="299.3" x2="334.5" y2="297.3" stroke="#2b2b2b" stroke-width="1"/>
<line x1="334.5" y1="183" x2="334.5" y2="185" stroke="#2b2b2b" stroke-width="1"/>
<text transform="translate(334.5 310.5) scale(1 1.0)" font-size="9.5" fill="#1a1a1a" stroke="#1a1a1a" stroke-width="0.12" text-anchor="middle">1540</text>
<line x1="378.5" y1="299.3" x2="378.5" y2="297.3" stroke="#2b2b2b" stroke-width="1"/>
<line x1="378.5" y1="183" x2="378.5" y2="185" stroke="#2b2b2b" stroke-width="1"/>
<text transform="translate(378.5 310.5) scale(1 1.0)" font-size="9.5" fill="#1a1a1a" stroke="#1a1a1a" stroke-width="0.12" text-anchor="middle">1560</text>
<line x1="422.5" y1="299.3" x2="422.5" y2="297.3" stroke="#2b2b2b" stroke-width="1"/>
<line x1="422.5" y1="183" x2="422.5" y2="185" stroke="#2b2b2b" stroke-width="1"/>
<text transform="translate(422.5 310.5) scale(1 1.0)" font-size="9.5" fill="#1a1a1a" stroke="#1a1a1a" stroke-width="0.12" text-anchor="middle">1580</text>
<line x1="270.5" y1="183" x2="272.5" y2="183" stroke="#2b2b2b" stroke-width="1"/>
<line x1="451.5" y1="183" x2="449.5" y2="183" stroke="#2b2b2b" stroke-width="1"/>
<text transform="translate(266.3 186.4) scale(1 1.0)" font-size="9.5" fill="#1a1a1a" stroke="#1a1a1a" stroke-width="0.12" text-anchor="end">−2.5</text>
<line x1="270.5" y1="221.77" x2="272.5" y2="221.77" stroke="#2b2b2b" stroke-width="1"/>
<line x1="451.5" y1="221.77" x2="449.5" y2="221.77" stroke="#2b2b2b" stroke-width="1"/>
<text transform="translate(266.3 225.17) scale(1 1.0)" font-size="9.5" fill="#1a1a1a" stroke="#1a1a1a" stroke-width="0.12" text-anchor="end">−3</text>
<line x1="270.5" y1="260.53" x2="272.5" y2="260.53" stroke="#2b2b2b" stroke-width="1"/>
<line x1="451.5" y1="260.53" x2="449.5" y2="260.53" stroke="#2b2b2b" stroke-width="1"/>
<text transform="translate(266.3 263.93) scale(1 1.0)" font-size="9.5" fill="#1a1a1a" stroke="#1a1a1a" stroke-width="0.12" text-anchor="end">−3.5</text>
<line x1="270.5" y1="299.3" x2="272.5" y2="299.3" stroke="#2b2b2b" stroke-width="1"/>
<line x1="451.5" y1="299.3" x2="449.5" y2="299.3" stroke="#2b2b2b" stroke-width="1"/>
<text transform="translate(266.3 302.7) scale(1 1.0)" font-size="9.5" fill="#1a1a1a" stroke="#1a1a1a" stroke-width="0.12" text-anchor="end">−4</text>
<text transform="translate(361 324) scale(1 1.0)" font-size="9.8" fill="#1a1a1a" stroke="#1a1a1a" stroke-width="0.12" text-anchor="middle">Wavelength (nm)</text>
<text x="240.5" y="240.55" font-size="9.8" fill="#1a1a1a" stroke="#1a1a1a" stroke-width="0.12" text-anchor="middle" transform="rotate(-90 240.5 240.55)">Transmission (dB)</text>
<path d="M270.5,253.4 L271.71,253.91 L272.91,254.43 L274.12,254.96 L275.33,255.5 L276.54,256.05 L277.74,256.6 L278.95,257.15 L280.16,257.7 L281.37,258.26 L282.57,258.81 L283.78,259.35 L284.99,259.9 L286.2,260.43 L287.4,260.96 L288.61,261.48 L289.82,261.98 L291.03,262.47 L292.23,262.95 L293.44,263.41 L294.65,263.87 L295.86,264.31 L297.06,264.75 L298.27,265.18 L299.48,265.6 L300.68,266.02 L301.89,266.43 L303.1,266.85 L304.31,267.25 L305.51,267.64 L306.72,268 L307.93,268.35 L309.14,268.66 L310.34,268.93 L311.55,269.16 L312.76,269.35 L313.97,269.49 L315.17,269.58 L316.38,269.65 L317.59,269.7 L318.8,269.73 L320,269.76 L321.21,269.79 L322.42,269.84 L323.62,269.91 L324.83,270 L326.04,270.11 L327.25,270.21 L328.45,270.29 L329.66,270.32 L330.87,270.29 L332.08,270.19 L333.28,269.99 L334.49,269.67 L335.7,269.23 L336.91,268.68 L338.11,268.05 L339.32,267.35 L340.53,266.6 L341.74,265.83 L342.94,265.05 L344.15,264.3 L345.36,263.58 L346.57,262.92 L347.77,262.31 L348.98,261.75 L350.19,261.22 L351.39,260.71 L352.6,260.22 L353.81,259.73 L355.02,259.23 L356.22,258.72 L357.43,258.18 L358.64,257.62 L359.85,257.05 L361.05,256.46 L362.26,255.88 L363.47,255.29 L364.68,254.73 L365.88,254.18 L367.09,253.65 L368.3,253.16 L369.51,252.71 L370.71,252.3 L371.92,251.94 L373.13,251.62 L374.33,251.36 L375.54,251.15 L376.75,251.01 L377.96,250.92 L379.16,250.9 L380.37,250.95 L381.58,251.04 L382.79,251.17 L383.99,251.33 L385.2,251.49 L386.41,251.64 L387.62,251.77 L388.82,251.87 L390.03,251.91 L391.24,251.9 L392.45,251.84 L393.65,251.75 L394.86,251.64 L396.07,251.52 L397.28,251.4 L398.48,251.3 L399.69,251.23 L400.9,251.2 L402.1,251.21 L403.31,251.28 L404.52,251.39 L405.73,251.54 L406.93,251.73 L408.14,251.97 L409.35,252.24 L410.56,252.55 L411.76,252.89 L412.97,253.26 L414.18,253.66 L415.39,254.09 L416.59,254.53 L417.8,255 L419.01,255.48 L420.22,255.97 L421.42,256.47 L422.63,256.97 L423.84,257.47 L425.04,257.94 L426.25,258.35 L427.46,258.67 L428.67,258.86 L429.87,258.89 L431.08,258.75 L432.29,258.45 L433.5,257.98 L434.7,257.37 L435.91,256.61 L437.12,255.73 L438.33,254.71 L439.53,253.53 L440.74,252.17 L441.95,250.61 L443.16,248.83 L444.36,246.8 L445.57,244.5 L446.78,241.92 L447.99,239.02 L449.19,235.8 L450.4,232.22" fill="none" stroke="#276aae" stroke-width="1.6" stroke-linejoin="round" clip-path="url(#ce)"/>
<line x1="279.5" y1="251.3" x2="279.5" y2="265.3" stroke="#3a3a3a" stroke-width="0.9"/>
<line x1="277.8" y1="251.3" x2="281.2" y2="251.3" stroke="#3a3a3a" stroke-width="0.9"/>
<line x1="277.8" y1="265.3" x2="281.2" y2="265.3" stroke="#3a3a3a" stroke-width="0.9"/>
<line x1="290.6" y1="254.9" x2="290.6" y2="270.3" stroke="#3a3a3a" stroke-width="0.9"/>
<line x1="288.9" y1="254.9" x2="292.3" y2="254.9" stroke="#3a3a3a" stroke-width="0.9"/>
<line x1="288.9" y1="270.3" x2="292.3" y2="270.3" stroke="#3a3a3a" stroke-width="0.9"/>
<line x1="301.5" y1="263.5" x2="301.5" y2="270.3" stroke="#3a3a3a" stroke-width="0.9"/>
<line x1="299.8" y1="263.5" x2="303.2" y2="263.5" stroke="#3a3a3a" stroke-width="0.9"/>
<line x1="299.8" y1="270.3" x2="303.2" y2="270.3" stroke="#3a3a3a" stroke-width="0.9"/>
<line x1="312.4" y1="262.4" x2="312.4" y2="277.5" stroke="#3a3a3a" stroke-width="0.9"/>
<line x1="310.7" y1="262.4" x2="314.1" y2="262.4" stroke="#3a3a3a" stroke-width="0.9"/>
<line x1="310.7" y1="277.5" x2="314.1" y2="277.5" stroke="#3a3a3a" stroke-width="0.9"/>
<line x1="323.5" y1="266.4" x2="323.5" y2="274.6" stroke="#3a3a3a" stroke-width="0.9"/>
<line x1="321.8" y1="266.4" x2="325.2" y2="266.4" stroke="#3a3a3a" stroke-width="0.9"/>
<line x1="321.8" y1="274.6" x2="325.2" y2="274.6" stroke="#3a3a3a" stroke-width="0.9"/>
<line x1="334.4" y1="262.2" x2="334.4" y2="278.2" stroke="#3a3a3a" stroke-width="0.9"/>
<line x1="332.7" y1="262.2" x2="336.1" y2="262.2" stroke="#3a3a3a" stroke-width="0.9"/>
<line x1="332.7" y1="278.2" x2="336.1" y2="278.2" stroke="#3a3a3a" stroke-width="0.9"/>
<line x1="345.5" y1="258.5" x2="345.5" y2="268.3" stroke="#3a3a3a" stroke-width="0.9"/>
<line x1="343.8" y1="258.5" x2="347.2" y2="258.5" stroke="#3a3a3a" stroke-width="0.9"/>
<line x1="343.8" y1="268.3" x2="347.2" y2="268.3" stroke="#3a3a3a" stroke-width="0.9"/>
<line x1="356.5" y1="254.5" x2="356.5" y2="263.3" stroke="#3a3a3a" stroke-width="0.9"/>
<line x1="354.8" y1="254.5" x2="358.2" y2="254.5" stroke="#3a3a3a" stroke-width="0.9"/>
<line x1="354.8" y1="263.3" x2="358.2" y2="263.3" stroke="#3a3a3a" stroke-width="0.9"/>
<line x1="367.7" y1="244.3" x2="367.7" y2="261.1" stroke="#3a3a3a" stroke-width="0.9"/>
<line x1="366" y1="244.3" x2="369.4" y2="244.3" stroke="#3a3a3a" stroke-width="0.9"/>
<line x1="366" y1="261.1" x2="369.4" y2="261.1" stroke="#3a3a3a" stroke-width="0.9"/>
<line x1="378.9" y1="241.3" x2="378.9" y2="259.5" stroke="#3a3a3a" stroke-width="0.9"/>
<line x1="377.2" y1="241.3" x2="380.6" y2="241.3" stroke="#3a3a3a" stroke-width="0.9"/>
<line x1="377.2" y1="259.5" x2="380.6" y2="259.5" stroke="#3a3a3a" stroke-width="0.9"/>
<line x1="389.6" y1="246.2" x2="389.6" y2="258.2" stroke="#3a3a3a" stroke-width="0.9"/>
<line x1="387.9" y1="246.2" x2="391.3" y2="246.2" stroke="#3a3a3a" stroke-width="0.9"/>
<line x1="387.9" y1="258.2" x2="391.3" y2="258.2" stroke="#3a3a3a" stroke-width="0.9"/>
<line x1="400.7" y1="250" x2="400.7" y2="253.1" stroke="#3a3a3a" stroke-width="0.9"/>
<line x1="399" y1="250" x2="402.4" y2="250" stroke="#3a3a3a" stroke-width="0.9"/>
<line x1="399" y1="253.1" x2="402.4" y2="253.1" stroke="#3a3a3a" stroke-width="0.9"/>
<line x1="411.8" y1="248.2" x2="411.8" y2="257.3" stroke="#3a3a3a" stroke-width="0.9"/>
<line x1="410.1" y1="248.2" x2="413.5" y2="248.2" stroke="#3a3a3a" stroke-width="0.9"/>
<line x1="410.1" y1="257.3" x2="413.5" y2="257.3" stroke="#3a3a3a" stroke-width="0.9"/>
<line x1="422.7" y1="250.2" x2="422.7" y2="264.8" stroke="#3a3a3a" stroke-width="0.9"/>
<line x1="421" y1="250.2" x2="424.4" y2="250.2" stroke="#3a3a3a" stroke-width="0.9"/>
<line x1="421" y1="264.8" x2="424.4" y2="264.8" stroke="#3a3a3a" stroke-width="0.9"/>
<line x1="433.9" y1="254.2" x2="433.9" y2="262.2" stroke="#3a3a3a" stroke-width="0.9"/>
<line x1="432.2" y1="254.2" x2="435.6" y2="254.2" stroke="#3a3a3a" stroke-width="0.9"/>
<line x1="432.2" y1="262.2" x2="435.6" y2="262.2" stroke="#3a3a3a" stroke-width="0.9"/>
<line x1="444.8" y1="240.5" x2="444.8" y2="252.5" stroke="#3a3a3a" stroke-width="0.9"/>
<line x1="443.1" y1="240.5" x2="446.5" y2="240.5" stroke="#3a3a3a" stroke-width="0.9"/>
<line x1="443.1" y1="252.5" x2="446.5" y2="252.5" stroke="#3a3a3a" stroke-width="0.9"/>
<rect x="277.9" y="256.5" width="3.2" height="3.2" fill="#9c3a1c" stroke="#2a140c" stroke-width="0.7"/>
<rect x="289" y="261.1" width="3.2" height="3.2" fill="#9c3a1c" stroke="#2a140c" stroke-width="0.7"/>
<rect x="299.9" y="265.1" width="3.2" height="3.2" fill="#9c3a1c" stroke="#2a140c" stroke-width="0.7"/>
<rect x="310.8" y="268.3" width="3.2" height="3.2" fill="#9c3a1c" stroke="#2a140c" stroke-width="0.7"/>
<rect x="321.9" y="268.7" width="3.2" height="3.2" fill="#9c3a1c" stroke="#2a140c" stroke-width="0.7"/>
<rect x="332.8" y="268.7" width="3.2" height="3.2" fill="#9c3a1c" stroke="#2a140c" stroke-width="0.7"/>
<rect x="343.9" y="261.9" width="3.2" height="3.2" fill="#9c3a1c" stroke="#2a140c" stroke-width="0.7"/>
<rect x="354.9" y="257.3" width="3.2" height="3.2" fill="#9c3a1c" stroke="#2a140c" stroke-width="0.7"/>
<rect x="366.1" y="251.3" width="3.2" height="3.2" fill="#9c3a1c" stroke="#2a140c" stroke-width="0.7"/>
<rect x="377.3" y="248.6" width="3.2" height="3.2" fill="#9c3a1c" stroke="#2a140c" stroke-width="0.7"/>
<rect x="388" y="250.6" width="3.2" height="3.2" fill="#9c3a1c" stroke="#2a140c" stroke-width="0.7"/>
<rect x="399.1" y="249.7" width="3.2" height="3.2" fill="#9c3a1c" stroke="#2a140c" stroke-width="0.7"/>
<rect x="410.2" y="251.3" width="3.2" height="3.2" fill="#9c3a1c" stroke="#2a140c" stroke-width="0.7"/>
<rect x="421.1" y="255.9" width="3.2" height="3.2" fill="#9c3a1c" stroke="#2a140c" stroke-width="0.7"/>
<rect x="432.3" y="256.3" width="3.2" height="3.2" fill="#9c3a1c" stroke="#2a140c" stroke-width="0.7"/>
<rect x="443.2" y="244.9" width="3.2" height="3.2" fill="#9c3a1c" stroke="#2a140c" stroke-width="0.7"/>
<rect x="277.2" y="190.4" width="3.2" height="3.2" fill="#7a3a28" stroke="#2a140c" stroke-width="0.6"/>
<line x1="273.4" y1="200.4" x2="284.3" y2="200.4" stroke="#276aae" stroke-width="1.6"/>
<text x="288.8" y="194.6" font-size="8.3" fill="#1a1a1a" stroke="#1a1a1a" stroke-width="0.12">Measurement</text>
<text x="288.8" y="203.2" font-size="8.3" fill="#1a1a1a" stroke="#1a1a1a" stroke-width="0.12">Fit</text>
<polygon points="584.2,251.4 629.1,269.4 661.3,291.2 660.6,294.6 657.3,297.2 645.2,288.2 624.1,275.1 600,262.4 584.2,254.8" fill="#2288e6" stroke="none" stroke-width="0"/>
<polygon points="584.2,251.4 629.1,269.4 661.3,291.2 659,293.6 645.2,286 624.1,273.2 600,260.6 584.2,253.2" fill="#2e9cf6" stroke="none" stroke-width="0"/>
<polygon points="661.3,291.2 660.6,294.6 657.3,297.2 659,293.6" fill="#2a84e2" stroke="none" stroke-width="0"/>
<path d="M518.6,201.0 L527.0,204.6" stroke="#2288e6" stroke-width="3.0" stroke-linecap="round"/>
<path d="M518.8,200.4 L527.0,204.0" stroke="#2e9cf6" stroke-width="1.6" stroke-linecap="round"/>
<polygon points="525.6,204.6 527,206.6 537.8,219 536.2,218.6" fill="#2a7de0" stroke="none" stroke-width="0"/>
<polygon points="526,203.2 552.6,212.4 601.4,243 628.8,265 628.6,270.4 623,270.4 584.2,251.4 540.4,217 537.4,217.4 526.6,205.4" fill="#22c2ad" stroke="none" stroke-width="0"/>
<polygon points="552.4,212.6 601,242.2 600.4,244.4 551.4,214.6" fill="#f6c2cc" stroke="none" stroke-width="0"/>
<polygon points="553.6,211.4 561.8,209 611.6,236.4 601,242.2" fill="#ef5d82" stroke="none" stroke-width="0"/>
<polygon points="611.6,236.4 611.2,238.4 600.6,244.6 601,242.2" fill="#d8486c" stroke="none" stroke-width="0"/>
<polygon points="557.62,211.01 559.82,209.81 561.02,211.31 558.82,212.51" fill="#8a5f6c" stroke="none" stroke-width="0"/>
<polygon points="560.66,212.83 562.86,211.63 564.06,213.13 561.86,214.33" fill="#8a5f6c" stroke="none" stroke-width="0"/>
<polygon points="563.69,214.65 565.89,213.45 567.09,214.95 564.89,216.15" fill="#8a5f6c" stroke="none" stroke-width="0"/>
<polygon points="566.73,216.47 568.93,215.27 570.13,216.77 567.93,217.97" fill="#8a5f6c" stroke="none" stroke-width="0"/>
<polygon points="569.77,218.28 571.97,217.08 573.17,218.58 570.97,219.78" fill="#8a5f6c" stroke="none" stroke-width="0"/>
<polygon points="572.81,220.1 575.01,218.9 576.21,220.4 574.01,221.6" fill="#8a5f6c" stroke="none" stroke-width="0"/>
<polygon points="575.84,221.92 578.04,220.72 579.24,222.22 577.04,223.42" fill="#8a5f6c" stroke="none" stroke-width="0"/>
<polygon points="578.88,223.74 581.08,222.54 582.28,224.04 580.08,225.24" fill="#8a5f6c" stroke="none" stroke-width="0"/>
<polygon points="581.92,225.56 584.12,224.36 585.32,225.86 583.12,227.06" fill="#8a5f6c" stroke="none" stroke-width="0"/>
<polygon points="584.96,227.38 587.16,226.18 588.36,227.68 586.16,228.88" fill="#8a5f6c" stroke="none" stroke-width="0"/>
<polygon points="587.99,229.2 590.19,228 591.39,229.5 589.19,230.7" fill="#8a5f6c" stroke="none" stroke-width="0"/>
<polygon points="591.03,231.02 593.23,229.82 594.43,231.32 592.23,232.52" fill="#8a5f6c" stroke="none" stroke-width="0"/>
<polygon points="594.07,232.83 596.27,231.63 597.47,233.13 595.27,234.33" fill="#8a5f6c" stroke="none" stroke-width="0"/>
<polygon points="597.11,234.65 599.31,233.45 600.51,234.95 598.31,236.15" fill="#8a5f6c" stroke="none" stroke-width="0"/>
<polygon points="600.14,236.47 602.34,235.27 603.54,236.77 601.34,237.97" fill="#8a5f6c" stroke="none" stroke-width="0"/>
<polygon points="603.18,238.29 605.38,237.09 606.58,238.59 604.38,239.79" fill="#8a5f6c" stroke="none" stroke-width="0"/>
<polygon points="534.4,219.4 540.4,217 584.2,251.4 578.2,254.8" fill="#f7e59c" stroke="none" stroke-width="0"/>
<polygon points="578.2,254.8 584.2,251.4 584.2,253.4 578.4,256.8" fill="#e8d080" stroke="none" stroke-width="0"/>
<polygon points="523.4,224.6 566.2,260.4 566.3,262.8 523.2,226.8" fill="#e07400" stroke="none" stroke-width="0"/>
<polygon points="523.4,224.6 535.8,219.2 578.2,254.8 566.2,260.4" fill="#f78f1e" stroke="none" stroke-width="0"/>
<polygon points="578.2,254.8 578.2,257 566.3,262.8 566.2,260.4" fill="#d86c00" stroke="none" stroke-width="0"/>
<polygon points="529.42,223.07 531.82,221.77 533.02,223.57 530.62,224.77" fill="#85746a" stroke="none" stroke-width="0"/>
<polygon points="532.46,225.61 534.86,224.31 536.06,226.11 533.66,227.31" fill="#85746a" stroke="none" stroke-width="0"/>
<polygon points="535.51,228.16 537.91,226.86 539.11,228.66 536.71,229.86" fill="#85746a" stroke="none" stroke-width="0"/>
<polygon points="538.55,230.7 540.95,229.4 542.15,231.2 539.75,232.4" fill="#85746a" stroke="none" stroke-width="0"/>
<polygon points="541.59,233.24 543.99,231.94 545.19,233.74 542.79,234.94" fill="#85746a" stroke="none" stroke-width="0"/>
<polygon points="544.64,235.79 547.04,234.49 548.24,236.29 545.84,237.49" fill="#85746a" stroke="none" stroke-width="0"/>
<polygon points="547.68,238.33 550.08,237.03 551.28,238.83 548.88,240.03" fill="#85746a" stroke="none" stroke-width="0"/>
<polygon points="550.72,240.87 553.12,239.57 554.32,241.37 551.92,242.57" fill="#85746a" stroke="none" stroke-width="0"/>
<polygon points="553.76,243.41 556.16,242.11 557.36,243.91 554.96,245.11" fill="#85746a" stroke="none" stroke-width="0"/>
<polygon points="556.81,245.96 559.21,244.66 560.41,246.46 558.01,247.66" fill="#85746a" stroke="none" stroke-width="0"/>
<polygon points="559.85,248.5 562.25,247.2 563.45,249 561.05,250.2" fill="#85746a" stroke="none" stroke-width="0"/>
<polygon points="562.89,251.04 565.29,249.74 566.49,251.54 564.09,252.74" fill="#85746a" stroke="none" stroke-width="0"/>
<polygon points="565.94,253.59 568.34,252.29 569.54,254.09 567.14,255.29" fill="#85746a" stroke="none" stroke-width="0"/>
<polygon points="568.98,256.13 571.38,254.83 572.58,256.63 570.18,257.83" fill="#85746a" stroke="none" stroke-width="0"/>
<text x="514.6" y="198.4" font-size="8.4" fill="#23b0a6" stroke="#23b0a6" stroke-width="0.12">Polysilicon</text>
<text x="561" y="198.4" font-size="8.4" fill="#e8457a" stroke="#e8457a" stroke-width="0.12">n++</text>
<text x="503.6" y="224.6" font-size="8.4" fill="#f08a30" stroke="#f08a30" stroke-width="0.12">p++</text>
<line x1="541.4" y1="200.4" x2="544.6" y2="209.6" stroke="#23b0a6" stroke-width="0.5"/>
<line x1="563" y1="200.8" x2="561.6" y2="208.6" stroke="#e8457a" stroke-width="0.5"/>
<line x1="515.8" y1="225.4" x2="525" y2="226.6" stroke="#f08a30" stroke-width="0.5"/>
<text x="506.6" y="260.2" font-size="8.6" fill="#222" stroke="#222" stroke-width="0.12">100 μm</text>
<line x1="511" y1="233.8" x2="553.9" y2="269.3" stroke="#333" stroke-width="0.55"/>
<polygon points="511,233.8 512.2,235.8 513.19,234.61" fill="#333" stroke="none" stroke-width="0"/>
<polygon points="553.9,269.3 551.71,268.49 552.7,267.3" fill="#333" stroke="none" stroke-width="0"/>
<line x1="585.4" y1="216.8" x2="626.1" y2="236.5" stroke="#333" stroke-width="0.55"/>
<polygon points="585.4,216.8 587.04,218.45 587.72,217.07" fill="#333" stroke="none" stroke-width="0"/>
<polygon points="626.1,236.5 623.78,236.23 624.46,234.85" fill="#333" stroke="none" stroke-width="0"/>
<text transform="translate(608.6 227) rotate(26)" text-anchor="middle" font-size="8.6" fill="#222" stroke="#222" stroke-width="0.12">10 μm</text>
<line x1="584.1" y1="219.4" x2="584.1" y2="250" stroke="#333" stroke-width="0.9" stroke-dasharray="0.9 1.6"/>
<line x1="626.1" y1="237" x2="626.1" y2="272" stroke="#333" stroke-width="0.9" stroke-dasharray="0.9 1.6"/>
<text x="657.6" y="260.2" font-size="8.6" fill="#222" stroke="#222" stroke-width="0.12">0.5 μm</text>
<line x1="652.2" y1="258" x2="652.2" y2="289" stroke="#333" stroke-width="0.9" stroke-dasharray="0.9 1.6"/>
<line x1="655" y1="256" x2="655" y2="288" stroke="#333" stroke-width="0.9" stroke-dasharray="0.9 1.6"/>
<line x1="650" y1="262" x2="653" y2="258.5" stroke="#333" stroke-width="0.5"/>
<line x1="657" y1="252" x2="654" y2="255" stroke="#333" stroke-width="0.5"/>
<defs><pattern id="tex2" width="2.2" height="2.2" patternUnits="userSpaceOnUse"><rect width="2.2" height="2.2" fill="#5a4520"/><rect width="1.1" height="1.1" fill="#2c2010"/></pattern></defs>
<rect x="612.0" y="183.3" width="68.3" height="36.2" fill="url(#tex2)"/>
<rect x="612.0" y="183.3" width="5.0" height="10.5" fill="#2e5a66"/>
<rect x="675.6" y="183.3" width="4.7" height="10.5" fill="#2e5a66"/>
<rect x="612.0" y="189.4" width="10" height="1.4" fill="#7cc890"/>
<rect x="671.0" y="189.4" width="9.3" height="1.4" fill="#7cc890"/>
<rect x="621.5" y="188.6" width="50" height="2.6" fill="#d0904a"/>
<rect x="621.5" y="188.0" width="5.4" height="3.6" fill="#e8c860"/>
<rect x="665.4" y="188.0" width="6.0" height="3.6" fill="#e8c860"/>
<rect x="623.2" y="191.5" width="1.4" height="17" fill="#c8843a"/>
<rect x="662.3" y="191.5" width="1.4" height="17" fill="#c8843a"/>
<rect x="612.0" y="208.6" width="68.3" height="9.8" fill="#2a1c08" opacity="0.35"/>
<rect x="614.4" y="210.0" width="11.5" height="8.0" rx="2.5" fill="#f2e41a"/>
<rect x="664.6" y="210.0" width="11.1" height="8.0" rx="2.5" fill="#f2e41a"/>
<rect x="612.0" y="218.0" width="68.3" height="1.5" fill="#6a10b0"/>
<path d="M635.6 219.5 L636.6 221.6 L654.6 221.6 L655.6 219.5 Z" fill="#2a1a08"/>
<clipPath id="cg"><rect x="33.8" y="354.4" width="179.8" height="115.9"/></clipPath>
<rect x="33.8" y="354.4" width="179.8" height="115.9" fill="none" stroke="#2b2b2b" stroke-width="1"/>
<line x1="107.56" y1="470.3" x2="107.56" y2="468.3" stroke="#2b2b2b" stroke-width="1"/>
<line x1="107.56" y1="354.4" x2="107.56" y2="356.4" stroke="#2b2b2b" stroke-width="1"/>
<text transform="translate(107.56 482) scale(1 1.0)" font-size="9.5" fill="#1a1a1a" stroke="#1a1a1a" stroke-width="0.12" text-anchor="middle">50</text>
<line x1="139.5" y1="470.3" x2="139.5" y2="468.3" stroke="#2b2b2b" stroke-width="1"/>
<line x1="139.5" y1="354.4" x2="139.5" y2="356.4" stroke="#2b2b2b" stroke-width="1"/>
<text transform="translate(139.5 482) scale(1 1.0)" font-size="9.5" fill="#1a1a1a" stroke="#1a1a1a" stroke-width="0.12" text-anchor="middle">100</text>
<line x1="171.44" y1="470.3" x2="171.44" y2="468.3" stroke="#2b2b2b" stroke-width="1"/>
<line x1="171.44" y1="354.4" x2="171.44" y2="356.4" stroke="#2b2b2b" stroke-width="1"/>
<text transform="translate(171.44 482) scale(1 1.0)" font-size="9.5" fill="#1a1a1a" stroke="#1a1a1a" stroke-width="0.12" text-anchor="middle">200</text>
<line x1="203.38" y1="470.3" x2="203.38" y2="468.3" stroke="#2b2b2b" stroke-width="1"/>
<line x1="203.38" y1="354.4" x2="203.38" y2="356.4" stroke="#2b2b2b" stroke-width="1"/>
<text transform="translate(203.38 482) scale(1 1.0)" font-size="9.5" fill="#1a1a1a" stroke="#1a1a1a" stroke-width="0.12" text-anchor="middle">400</text>
<line x1="65.34" y1="470.3" x2="65.34" y2="469.1" stroke="#2b2b2b" stroke-width="0.8"/>
<line x1="65.34" y1="354.4" x2="65.34" y2="355.6" stroke="#2b2b2b" stroke-width="0.8"/>
<line x1="84.02" y1="470.3" x2="84.02" y2="469.1" stroke="#2b2b2b" stroke-width="0.8"/>
<line x1="84.02" y1="354.4" x2="84.02" y2="355.6" stroke="#2b2b2b" stroke-width="0.8"/>
<line x1="97.28" y1="470.3" x2="97.28" y2="469.1" stroke="#2b2b2b" stroke-width="0.8"/>
<line x1="97.28" y1="354.4" x2="97.28" y2="355.6" stroke="#2b2b2b" stroke-width="0.8"/>
<line x1="115.96" y1="470.3" x2="115.96" y2="469.1" stroke="#2b2b2b" stroke-width="0.8"/>
<line x1="115.96" y1="354.4" x2="115.96" y2="355.6" stroke="#2b2b2b" stroke-width="0.8"/>
<line x1="123.06" y1="470.3" x2="123.06" y2="469.1" stroke="#2b2b2b" stroke-width="0.8"/>
<line x1="123.06" y1="354.4" x2="123.06" y2="355.6" stroke="#2b2b2b" stroke-width="0.8"/>
<line x1="129.22" y1="470.3" x2="129.22" y2="469.1" stroke="#2b2b2b" stroke-width="0.8"/>
<line x1="129.22" y1="354.4" x2="129.22" y2="355.6" stroke="#2b2b2b" stroke-width="0.8"/>
<line x1="134.65" y1="470.3" x2="134.65" y2="469.1" stroke="#2b2b2b" stroke-width="0.8"/>
<line x1="134.65" y1="354.4" x2="134.65" y2="355.6" stroke="#2b2b2b" stroke-width="0.8"/>
<line x1="190.12" y1="470.3" x2="190.12" y2="469.1" stroke="#2b2b2b" stroke-width="0.8"/>
<line x1="190.12" y1="354.4" x2="190.12" y2="355.6" stroke="#2b2b2b" stroke-width="0.8"/>
<line x1="33.8" y1="370.96" x2="35.8" y2="370.96" stroke="#2b2b2b" stroke-width="1"/>
<line x1="213.6" y1="370.96" x2="211.6" y2="370.96" stroke="#2b2b2b" stroke-width="1"/>
<text transform="translate(28.8 374.36) scale(1 1.0)" font-size="9.5" fill="#1a1a1a" stroke="#1a1a1a" stroke-width="0.12" text-anchor="end">0</text>
<line x1="33.8" y1="404.07" x2="35.8" y2="404.07" stroke="#2b2b2b" stroke-width="1"/>
<line x1="213.6" y1="404.07" x2="211.6" y2="404.07" stroke="#2b2b2b" stroke-width="1"/>
<text transform="translate(28.8 407.47) scale(1 1.0)" font-size="9.5" fill="#1a1a1a" stroke="#1a1a1a" stroke-width="0.12" text-anchor="end">−4</text>
<line x1="33.8" y1="437.19" x2="35.8" y2="437.19" stroke="#2b2b2b" stroke-width="1"/>
<line x1="213.6" y1="437.19" x2="211.6" y2="437.19" stroke="#2b2b2b" stroke-width="1"/>
<text transform="translate(28.8 440.59) scale(1 1.0)" font-size="9.5" fill="#1a1a1a" stroke="#1a1a1a" stroke-width="0.12" text-anchor="end">−8</text>
<line x1="33.8" y1="470.3" x2="35.8" y2="470.3" stroke="#2b2b2b" stroke-width="1"/>
<line x1="213.6" y1="470.3" x2="211.6" y2="470.3" stroke="#2b2b2b" stroke-width="1"/>
<text transform="translate(28.8 473.7) scale(1 1.0)" font-size="9.5" fill="#1a1a1a" stroke="#1a1a1a" stroke-width="0.12" text-anchor="end">−12</text>
<text transform="translate(123.7 494.6) scale(1 1.0)" font-size="9.8" fill="#1a1a1a" stroke="#1a1a1a" stroke-width="0.12" text-anchor="middle">Frequency (MHz)</text>
<text x="8.3" y="411.05" font-size="9.8" fill="#1a1a1a" stroke="#1a1a1a" stroke-width="0.12" text-anchor="middle" transform="rotate(-90 8.3 411.05)">Normalized magnitude (dB)</text>
<path d="M33.8,370.8 L35.31,370.8 L36.82,370.8 L38.33,370.8 L39.84,370.8 L41.35,370.8 L42.87,370.8 L44.38,370.8 L45.89,370.8 L47.4,370.8 L48.91,370.8 L50.42,370.8 L51.93,370.8 L53.44,370.8 L54.95,370.8 L56.46,370.8 L57.97,370.8 L59.49,370.8 L61,370.8 L62.51,370.81 L64.02,370.83 L65.53,370.86 L67.04,370.9 L68.55,370.94 L70.06,370.99 L71.57,371.05 L73.08,371.11 L74.59,371.17 L76.11,371.23 L77.62,371.3 L79.13,371.36 L80.64,371.43 L82.15,371.51 L83.66,371.59 L85.17,371.69 L86.68,371.79 L88.19,371.91 L89.7,372.03 L91.22,372.16 L92.73,372.29 L94.24,372.43 L95.75,372.58 L97.26,372.72 L98.77,372.88 L100.28,373.03 L101.79,373.19 L103.3,373.37 L104.81,373.55 L106.32,373.75 L107.84,373.96 L109.35,374.18 L110.86,374.4 L112.37,374.64 L113.88,374.89 L115.39,375.16 L116.9,375.44 L118.41,375.73 L119.92,376.05 L121.43,376.38 L122.94,376.74 L124.46,377.12 L125.97,377.53 L127.48,377.97 L128.99,378.45 L130.5,378.97 L132.01,379.52 L133.52,380.12 L135.03,380.77 L136.54,381.55 L138.05,382.4 L139.56,383.26 L141.08,384.08 L142.59,384.9 L144.1,385.75 L145.61,386.65 L147.12,387.66 L148.63,388.79 L150.14,389.96 L151.65,391.14 L153.16,392.28 L154.67,393.43 L156.18,394.57 L157.7,395.68 L159.21,396.74 L160.72,397.76 L162.23,398.78 L163.74,399.84 L165.25,400.97 L166.76,402.14 L168.27,403.37 L169.78,404.63 L171.29,405.93 L172.81,407.28 L174.32,408.67 L175.83,410.13 L177.34,411.66 L178.85,413.26 L180.36,414.92 L181.87,416.63 L183.38,418.36 L184.89,420.14 L186.4,421.97 L187.91,423.84 L189.43,425.77 L190.94,427.76 L192.45,429.8 L193.96,431.86 L195.47,433.93 L196.98,436.03 L198.49,438.15 L200,440.29 L201.51,442.45 L203.02,444.64 L204.53,446.83 L206.05,449 L207.56,451.19 L209.07,453.4 L210.58,455.65 L212.09,457.93 L213.6,460.25" fill="none" stroke="#276aae" stroke-width="1.8" stroke-linejoin="round" clip-path="url(#cg)"/>
<g fill="#7a1222" stroke="#2a0508" stroke-width="0.5">
<rect x="32.15" y="367.45" width="3.3" height="3.3"/>
<rect x="64.15" y="363.55" width="3.3" height="3.3"/>
<rect x="82.55" y="366.15" width="3.3" height="3.3"/>
<rect x="95.85" y="368.95" width="3.3" height="3.3"/>
<rect x="106.45" y="376.05" width="3.3" height="3.3"/>
<rect x="114.45" y="378.85" width="3.3" height="3.3"/>
<rect x="121.45" y="379.95" width="3.3" height="3.3"/>
<rect x="127.65" y="379.95" width="3.3" height="3.3"/>
<rect x="133.15" y="375.55" width="3.3" height="3.3"/>
<rect x="138.05" y="378.65" width="3.3" height="3.3"/>
<rect x="142.45" y="381.15" width="3.3" height="3.3"/>
<rect x="146.45" y="385.95" width="3.3" height="3.3"/>
<rect x="150.15" y="392.55" width="3.3" height="3.3"/>
<rect x="153.95" y="393.65" width="3.3" height="3.3"/>
<rect x="157.25" y="397.05" width="3.3" height="3.3"/>
<rect x="159.95" y="397.75" width="3.3" height="3.3"/>
<rect x="162.55" y="396.45" width="3.3" height="3.3"/>
<rect x="165.15" y="399.25" width="3.3" height="3.3"/>
<rect x="167.65" y="403.55" width="3.3" height="3.3"/>
<rect x="170.15" y="405.05" width="3.3" height="3.3"/>
<rect x="172.35" y="407.25" width="3.3" height="3.3"/>
<rect x="174.35" y="408.15" width="3.3" height="3.3"/>
<rect x="176.35" y="408.75" width="3.3" height="3.3"/>
<rect x="178.25" y="411.15" width="3.3" height="3.3"/>
<rect x="180.05" y="413.55" width="3.3" height="3.3"/>
<rect x="181.85" y="416.65" width="3.3" height="3.3"/>
<rect x="183.45" y="417.55" width="3.3" height="3.3"/>
<rect x="185.15" y="420.85" width="3.3" height="3.3"/>
<rect x="186.75" y="422.85" width="3.3" height="3.3"/>
<rect x="188.25" y="421.95" width="3.3" height="3.3"/>
<rect x="189.75" y="424.35" width="3.3" height="3.3"/>
<rect x="191.15" y="427.15" width="3.3" height="3.3"/>
<rect x="192.55" y="430.85" width="3.3" height="3.3"/>
<rect x="193.95" y="434.55" width="3.3" height="3.3"/>
<rect x="195.25" y="435.85" width="3.3" height="3.3"/>
<rect x="196.55" y="438.35" width="3.3" height="3.3"/>
<rect x="197.85" y="440.25" width="3.3" height="3.3"/>
<rect x="199.05" y="443.85" width="3.3" height="3.3"/>
<rect x="200.25" y="446.15" width="3.3" height="3.3"/>
<rect x="201.45" y="450.15" width="3.3" height="3.3"/>
<rect x="202.55" y="454.15" width="3.3" height="3.3"/>
<rect x="203.75" y="450.55" width="3.3" height="3.3"/>
<rect x="204.85" y="451.15" width="3.3" height="3.3"/>
<rect x="205.95" y="450.05" width="3.3" height="3.3"/>
<rect x="206.95" y="453.35" width="3.3" height="3.3"/>
<rect x="208.05" y="455.85" width="3.3" height="3.3"/>
<rect x="209.05" y="458.15" width="3.3" height="3.3"/>
<rect x="210.05" y="460.85" width="3.3" height="3.3"/>
<rect x="211.05" y="462.65" width="3.3" height="3.3"/>
<rect x="211.85" y="463.55" width="3.3" height="3.3"/>
</g>
<rect x="150.4" y="359.2" width="3.2" height="3.2" fill="#7a1222" stroke="#2a0508" stroke-width="0.6"/>
<line x1="146" y1="369.6" x2="157.5" y2="369.6" stroke="#276aae" stroke-width="1.6"/>
<text x="159.9" y="363.9" font-size="8.3" fill="#1a1a1a" stroke="#1a1a1a" stroke-width="0.12">Measurement</text>
<text x="159.9" y="372.4" font-size="8.3" fill="#1a1a1a" stroke="#1a1a1a" stroke-width="0.12">Fit</text>
<clipPath id="ch"><rect x="270.9" y="351.1" width="182.7" height="119.2"/></clipPath>
<rect x="270.9" y="351.1" width="182.7" height="119.2" fill="none" stroke="#2b2b2b" stroke-width="1"/>
<line x1="270.9" y1="470.3" x2="270.9" y2="468.3" stroke="#2b2b2b" stroke-width="1"/>
<line x1="270.9" y1="351.1" x2="270.9" y2="353.1" stroke="#2b2b2b" stroke-width="1"/>
<text transform="translate(270.9 482) scale(1 1.0)" font-size="9.5" fill="#1a1a1a" stroke="#1a1a1a" stroke-width="0.12" text-anchor="middle">1</text>
<line x1="338.6" y1="470.3" x2="338.6" y2="468.3" stroke="#2b2b2b" stroke-width="1"/>
<line x1="338.6" y1="351.1" x2="338.6" y2="353.1" stroke="#2b2b2b" stroke-width="1"/>
<text transform="translate(338.6 482) scale(1 1.0)" font-size="9.5" fill="#1a1a1a" stroke="#1a1a1a" stroke-width="0.12" text-anchor="middle">10</text>
<line x1="406.3" y1="470.3" x2="406.3" y2="468.3" stroke="#2b2b2b" stroke-width="1"/>
<line x1="406.3" y1="351.1" x2="406.3" y2="353.1" stroke="#2b2b2b" stroke-width="1"/>
<text transform="translate(406.3 482) scale(1 1.0)" font-size="9.5" fill="#1a1a1a" stroke="#1a1a1a" stroke-width="0.12" text-anchor="middle">100</text>
<line x1="447.06" y1="470.3" x2="447.06" y2="468.3" stroke="#2b2b2b" stroke-width="1"/>
<line x1="447.06" y1="351.1" x2="447.06" y2="353.1" stroke="#2b2b2b" stroke-width="1"/>
<text transform="translate(447.06 482) scale(1 1.0)" font-size="9.5" fill="#1a1a1a" stroke="#1a1a1a" stroke-width="0.12" text-anchor="middle">400</text>
<line x1="291.28" y1="470.3" x2="291.28" y2="469.1" stroke="#2b2b2b" stroke-width="0.8"/>
<line x1="291.28" y1="351.1" x2="291.28" y2="352.3" stroke="#2b2b2b" stroke-width="0.8"/>
<line x1="303.2" y1="470.3" x2="303.2" y2="469.1" stroke="#2b2b2b" stroke-width="0.8"/>
<line x1="303.2" y1="351.1" x2="303.2" y2="352.3" stroke="#2b2b2b" stroke-width="0.8"/>
<line x1="311.66" y1="470.3" x2="311.66" y2="469.1" stroke="#2b2b2b" stroke-width="0.8"/>
<line x1="311.66" y1="351.1" x2="311.66" y2="352.3" stroke="#2b2b2b" stroke-width="0.8"/>
<line x1="318.22" y1="470.3" x2="318.22" y2="469.1" stroke="#2b2b2b" stroke-width="0.8"/>
<line x1="318.22" y1="351.1" x2="318.22" y2="352.3" stroke="#2b2b2b" stroke-width="0.8"/>
<line x1="323.58" y1="470.3" x2="323.58" y2="469.1" stroke="#2b2b2b" stroke-width="0.8"/>
<line x1="323.58" y1="351.1" x2="323.58" y2="352.3" stroke="#2b2b2b" stroke-width="0.8"/>
<line x1="328.11" y1="470.3" x2="328.11" y2="469.1" stroke="#2b2b2b" stroke-width="0.8"/>
<line x1="328.11" y1="351.1" x2="328.11" y2="352.3" stroke="#2b2b2b" stroke-width="0.8"/>
<line x1="332.04" y1="470.3" x2="332.04" y2="469.1" stroke="#2b2b2b" stroke-width="0.8"/>
<line x1="332.04" y1="351.1" x2="332.04" y2="352.3" stroke="#2b2b2b" stroke-width="0.8"/>
<line x1="335.5" y1="470.3" x2="335.5" y2="469.1" stroke="#2b2b2b" stroke-width="0.8"/>
<line x1="335.5" y1="351.1" x2="335.5" y2="352.3" stroke="#2b2b2b" stroke-width="0.8"/>
<line x1="358.98" y1="470.3" x2="358.98" y2="469.1" stroke="#2b2b2b" stroke-width="0.8"/>
<line x1="358.98" y1="351.1" x2="358.98" y2="352.3" stroke="#2b2b2b" stroke-width="0.8"/>
<line x1="370.9" y1="470.3" x2="370.9" y2="469.1" stroke="#2b2b2b" stroke-width="0.8"/>
<line x1="370.9" y1="351.1" x2="370.9" y2="352.3" stroke="#2b2b2b" stroke-width="0.8"/>
<line x1="379.36" y1="470.3" x2="379.36" y2="469.1" stroke="#2b2b2b" stroke-width="0.8"/>
<line x1="379.36" y1="351.1" x2="379.36" y2="352.3" stroke="#2b2b2b" stroke-width="0.8"/>
<line x1="385.92" y1="470.3" x2="385.92" y2="469.1" stroke="#2b2b2b" stroke-width="0.8"/>
<line x1="385.92" y1="351.1" x2="385.92" y2="352.3" stroke="#2b2b2b" stroke-width="0.8"/>
<line x1="391.28" y1="470.3" x2="391.28" y2="469.1" stroke="#2b2b2b" stroke-width="0.8"/>
<line x1="391.28" y1="351.1" x2="391.28" y2="352.3" stroke="#2b2b2b" stroke-width="0.8"/>
<line x1="395.81" y1="470.3" x2="395.81" y2="469.1" stroke="#2b2b2b" stroke-width="0.8"/>
<line x1="395.81" y1="351.1" x2="395.81" y2="352.3" stroke="#2b2b2b" stroke-width="0.8"/>
<line x1="399.74" y1="470.3" x2="399.74" y2="469.1" stroke="#2b2b2b" stroke-width="0.8"/>
<line x1="399.74" y1="351.1" x2="399.74" y2="352.3" stroke="#2b2b2b" stroke-width="0.8"/>
<line x1="403.2" y1="470.3" x2="403.2" y2="469.1" stroke="#2b2b2b" stroke-width="0.8"/>
<line x1="403.2" y1="351.1" x2="403.2" y2="352.3" stroke="#2b2b2b" stroke-width="0.8"/>
<line x1="426.68" y1="470.3" x2="426.68" y2="469.1" stroke="#2b2b2b" stroke-width="0.8"/>
<line x1="426.68" y1="351.1" x2="426.68" y2="352.3" stroke="#2b2b2b" stroke-width="0.8"/>
<line x1="438.6" y1="470.3" x2="438.6" y2="469.1" stroke="#2b2b2b" stroke-width="0.8"/>
<line x1="438.6" y1="351.1" x2="438.6" y2="352.3" stroke="#2b2b2b" stroke-width="0.8"/>
<line x1="453.62" y1="470.3" x2="453.62" y2="469.1" stroke="#2b2b2b" stroke-width="0.8"/>
<line x1="453.62" y1="351.1" x2="453.62" y2="352.3" stroke="#2b2b2b" stroke-width="0.8"/>
<line x1="270.9" y1="470.3" x2="272.9" y2="470.3" stroke="#2b2b2b" stroke-width="1"/>
<line x1="453.6" y1="470.3" x2="451.6" y2="470.3" stroke="#2b2b2b" stroke-width="1"/>
<text transform="translate(266.3 473.7) scale(1 1.0)" font-size="9.5" fill="#1a1a1a" stroke="#1a1a1a" stroke-width="0.12" text-anchor="end">20</text>
<line x1="270.9" y1="451.96" x2="272.9" y2="451.96" stroke="#2b2b2b" stroke-width="1"/>
<line x1="453.6" y1="451.96" x2="451.6" y2="451.96" stroke="#2b2b2b" stroke-width="1"/>
<text transform="translate(266.3 455.36) scale(1 1.0)" font-size="9.5" fill="#1a1a1a" stroke="#1a1a1a" stroke-width="0.12" text-anchor="end">40</text>
<line x1="270.9" y1="433.62" x2="272.9" y2="433.62" stroke="#2b2b2b" stroke-width="1"/>
<line x1="453.6" y1="433.62" x2="451.6" y2="433.62" stroke="#2b2b2b" stroke-width="1"/>
<text transform="translate(266.3 437.02) scale(1 1.0)" font-size="9.5" fill="#1a1a1a" stroke="#1a1a1a" stroke-width="0.12" text-anchor="end">60</text>
<line x1="270.9" y1="415.28" x2="272.9" y2="415.28" stroke="#2b2b2b" stroke-width="1"/>
<line x1="453.6" y1="415.28" x2="451.6" y2="415.28" stroke="#2b2b2b" stroke-width="1"/>
<text transform="translate(266.3 418.68) scale(1 1.0)" font-size="9.5" fill="#1a1a1a" stroke="#1a1a1a" stroke-width="0.12" text-anchor="end">80</text>
<line x1="270.9" y1="396.95" x2="272.9" y2="396.95" stroke="#2b2b2b" stroke-width="1"/>
<line x1="453.6" y1="396.95" x2="451.6" y2="396.95" stroke="#2b2b2b" stroke-width="1"/>
<text transform="translate(266.3 400.35) scale(1 1.0)" font-size="9.5" fill="#1a1a1a" stroke="#1a1a1a" stroke-width="0.12" text-anchor="end">100</text>
<line x1="270.9" y1="378.61" x2="272.9" y2="378.61" stroke="#2b2b2b" stroke-width="1"/>
<line x1="453.6" y1="378.61" x2="451.6" y2="378.61" stroke="#2b2b2b" stroke-width="1"/>
<text transform="translate(266.3 382.01) scale(1 1.0)" font-size="9.5" fill="#1a1a1a" stroke="#1a1a1a" stroke-width="0.12" text-anchor="end">120</text>
<line x1="270.9" y1="360.27" x2="272.9" y2="360.27" stroke="#2b2b2b" stroke-width="1"/>
<line x1="453.6" y1="360.27" x2="451.6" y2="360.27" stroke="#2b2b2b" stroke-width="1"/>
<text transform="translate(266.3 363.67) scale(1 1.0)" font-size="9.5" fill="#1a1a1a" stroke="#1a1a1a" stroke-width="0.12" text-anchor="end">140</text>
<text transform="translate(362.25 494.6) scale(1 1.0)" font-size="9.8" fill="#1a1a1a" stroke="#1a1a1a" stroke-width="0.12" text-anchor="middle">Frequency (MHz)</text>
<text transform="translate(242.9 427.6) rotate(-90)" font-size="9.8" fill="#1a1a1a" stroke="#1a1a1a" stroke-width="0.12"><tspan font-style="italic" font-size="13">i</tspan><tspan font-size="8.2" dy="2.3">π</tspan><tspan dy="-2.3"> (mA)</tspan></text>
<path d="M270.9,462.04 L271.82,462.04 L272.74,462.04 L273.65,462.04 L274.57,462.04 L275.49,462.04 L276.41,462.04 L277.33,462.04 L278.25,462.04 L279.16,462.04 L280.08,462.04 L281,462.03 L281.92,462.03 L282.84,462.03 L283.75,462.03 L284.67,462.03 L285.59,462.03 L286.51,462.03 L287.43,462.03 L288.35,462.03 L289.26,462.03 L290.18,462.03 L291.1,462.02 L292.02,462.02 L292.94,462.02 L293.85,462.02 L294.77,462.02 L295.69,462.02 L296.61,462.02 L297.53,462.02 L298.45,462.01 L299.36,462.01 L300.28,462.01 L301.2,462.01 L302.12,462.01 L303.04,462 L303.95,462 L304.87,462 L305.79,462 L306.71,461.99 L307.63,461.99 L308.55,461.99 L309.46,461.99 L310.38,461.98 L311.3,461.98 L312.22,461.97 L313.14,461.97 L314.06,461.97 L314.97,461.96 L315.89,461.96 L316.81,461.95 L317.73,461.95 L318.65,461.94 L319.56,461.94 L320.48,461.93 L321.4,461.93 L322.32,461.92 L323.24,461.91 L324.16,461.91 L325.07,461.9 L325.99,461.89 L326.91,461.88 L327.83,461.88 L328.75,461.87 L329.66,461.86 L330.58,461.85 L331.5,461.84 L332.42,461.83 L333.34,461.82 L334.26,461.8 L335.17,461.79 L336.09,461.78 L337.01,461.76 L337.93,461.75 L338.85,461.73 L339.76,461.72 L340.68,461.7 L341.6,461.68 L342.52,461.66 L343.44,461.64 L344.36,461.62 L345.27,461.6 L346.19,461.58 L347.11,461.55 L348.03,461.53 L348.95,461.5 L349.86,461.47 L350.78,461.44 L351.7,461.41 L352.62,461.38 L353.54,461.34 L354.46,461.31 L355.37,461.27 L356.29,461.23 L357.21,461.19 L358.13,461.14 L359.05,461.1 L359.96,461.05 L360.88,460.99 L361.8,460.94 L362.72,460.88 L363.64,460.82 L364.56,460.76 L365.47,460.69 L366.39,460.62 L367.31,460.55 L368.23,460.47 L369.15,460.39 L370.06,460.3 L370.98,460.21 L371.9,460.12 L372.82,460.02 L373.74,459.91 L374.66,459.8 L375.57,459.69 L376.49,459.57 L377.41,459.44 L378.33,459.3 L379.25,459.16 L380.16,459.01 L381.08,458.85 L382,458.69 L382.92,458.52 L383.84,458.33 L384.76,458.14 L385.67,457.94 L386.59,457.73 L387.51,457.5 L388.43,457.27 L389.35,457.02 L390.27,456.76 L391.18,456.49 L392.1,456.2 L393.02,455.9 L393.94,455.58 L394.86,455.25 L395.77,454.9 L396.69,454.53 L397.61,454.14 L398.53,453.73 L399.45,453.3 L400.37,452.85 L401.28,452.37 L402.2,451.87 L403.12,451.34 L404.04,450.79 L404.96,450.21 L405.87,449.6 L406.79,448.95 L407.71,448.28 L408.63,447.56 L409.55,446.82 L410.47,446.03 L411.38,445.2 L412.3,444.33 L413.22,443.41 L414.14,442.45 L415.06,441.44 L415.97,440.37 L416.89,439.25 L417.81,438.07 L418.73,436.83 L419.65,435.53 L420.57,434.16 L421.48,432.72 L422.4,431.2 L423.32,429.61 L424.24,427.93 L425.16,426.16 L426.07,424.31 L426.99,422.36 L427.91,420.31 L428.83,418.15 L429.75,415.88 L430.67,413.49 L431.58,410.98 L432.5,408.34 L433.42,405.57 L434.34,402.65 L435.26,399.58 L436.17,396.35 L437.09,392.95 L438.01,389.38 L438.93,385.62 L439.85,381.67 L440.77,377.52 L441.68,373.15 L442.6,368.55 L443.52,363.72 L444.44,358.63 L445.36,353.29 L446.27,347.66 L447.19,341.75 L448.11,335.53 L449.03,328.99 L449.95,322.11 L450.87,314.88 L451.78,307.27 L452.7,299.27 L453.62,290.85" fill="none" stroke="#276aae" stroke-width="1.6" stroke-linejoin="round" clip-path="url(#ch)"/>
<g fill="#7a1222" stroke="#2a0508" stroke-width="0.5">
<rect x="315.9" y="458.7" width="3.4" height="3.4"/>
<rect x="384.1" y="457.5" width="3.4" height="3.4"/>
<rect x="404.1" y="450.2" width="3.4" height="3.4"/>
<rect x="416.2" y="429" width="3.4" height="3.4"/>
<rect x="433.5" y="397" width="3.4" height="3.4"/>
<rect x="443.5" y="353.7" width="3.4" height="3.4"/>
</g>
<rect x="277.9" y="357.5" width="3.2" height="3.2" fill="#7a1222" stroke="#2a0508" stroke-width="0.6"/>
<line x1="274" y1="368.1" x2="285" y2="368.1" stroke="#276aae" stroke-width="1.6"/>
<text x="289.6" y="362" font-size="8.3" fill="#1a1a1a" stroke="#1a1a1a" stroke-width="0.12">Measurement</text>
<text x="289.6" y="370.9" font-size="8.3" fill="#1a1a1a" stroke="#1a1a1a" stroke-width="0.12">Fit</text>
<clipPath id="ci"><rect x="501.85" y="352.3" width="182.35" height="118"/></clipPath>
<rect x="501.85" y="352.3" width="182.35" height="118" fill="none" stroke="#2b2b2b" stroke-width="1"/>
<line x1="510.2" y1="470.3" x2="510.2" y2="468.3" stroke="#2b2b2b" stroke-width="1"/>
<line x1="510.2" y1="352.3" x2="510.2" y2="354.3" stroke="#2b2b2b" stroke-width="1"/>
<text transform="translate(510.2 482) scale(1 1.0)" font-size="9.5" fill="#1a1a1a" stroke="#1a1a1a" stroke-width="0.12" text-anchor="middle">0</text>
<line x1="543.44" y1="470.3" x2="543.44" y2="468.3" stroke="#2b2b2b" stroke-width="1"/>
<line x1="543.44" y1="352.3" x2="543.44" y2="354.3" stroke="#2b2b2b" stroke-width="1"/>
<text transform="translate(543.44 482) scale(1 1.0)" font-size="9.5" fill="#1a1a1a" stroke="#1a1a1a" stroke-width="0.12" text-anchor="middle">20</text>
<line x1="576.68" y1="470.3" x2="576.68" y2="468.3" stroke="#2b2b2b" stroke-width="1"/>
<line x1="576.68" y1="352.3" x2="576.68" y2="354.3" stroke="#2b2b2b" stroke-width="1"/>
<text transform="translate(576.68 482) scale(1 1.0)" font-size="9.5" fill="#1a1a1a" stroke="#1a1a1a" stroke-width="0.12" text-anchor="middle">40</text>
<line x1="609.92" y1="470.3" x2="609.92" y2="468.3" stroke="#2b2b2b" stroke-width="1"/>
<line x1="609.92" y1="352.3" x2="609.92" y2="354.3" stroke="#2b2b2b" stroke-width="1"/>
<text transform="translate(609.92 482) scale(1 1.0)" font-size="9.5" fill="#1a1a1a" stroke="#1a1a1a" stroke-width="0.12" text-anchor="middle">60</text>
<line x1="643.16" y1="470.3" x2="643.16" y2="468.3" stroke="#2b2b2b" stroke-width="1"/>
<line x1="643.16" y1="352.3" x2="643.16" y2="354.3" stroke="#2b2b2b" stroke-width="1"/>
<text transform="translate(643.16 482) scale(1 1.0)" font-size="9.5" fill="#1a1a1a" stroke="#1a1a1a" stroke-width="0.12" text-anchor="middle">80</text>
<line x1="676.4" y1="470.3" x2="676.4" y2="468.3" stroke="#2b2b2b" stroke-width="1"/>
<line x1="676.4" y1="352.3" x2="676.4" y2="354.3" stroke="#2b2b2b" stroke-width="1"/>
<text transform="translate(676.4 482) scale(1 1.0)" font-size="9.5" fill="#1a1a1a" stroke="#1a1a1a" stroke-width="0.12" text-anchor="middle">100</text>
<line x1="501.85" y1="465.1" x2="503.85" y2="465.1" stroke="#2b2b2b" stroke-width="1"/>
<line x1="684.2" y1="465.1" x2="682.2" y2="465.1" stroke="#2b2b2b" stroke-width="1"/>
<text transform="translate(497.6 468.5) scale(1 1.0)" font-size="9.5" fill="#1a1a1a" stroke="#1a1a1a" stroke-width="0.12" text-anchor="end">0</text>
<line x1="501.85" y1="444.42" x2="503.85" y2="444.42" stroke="#2b2b2b" stroke-width="1"/>
<line x1="684.2" y1="444.42" x2="682.2" y2="444.42" stroke="#2b2b2b" stroke-width="1"/>
<text transform="translate(497.6 447.82) scale(1 1.0)" font-size="9.5" fill="#1a1a1a" stroke="#1a1a1a" stroke-width="0.12" text-anchor="end">1</text>
<line x1="501.85" y1="423.74" x2="503.85" y2="423.74" stroke="#2b2b2b" stroke-width="1"/>
<line x1="684.2" y1="423.74" x2="682.2" y2="423.74" stroke="#2b2b2b" stroke-width="1"/>
<text transform="translate(497.6 427.14) scale(1 1.0)" font-size="9.5" fill="#1a1a1a" stroke="#1a1a1a" stroke-width="0.12" text-anchor="end">2</text>
<line x1="501.85" y1="403.06" x2="503.85" y2="403.06" stroke="#2b2b2b" stroke-width="1"/>
<line x1="684.2" y1="403.06" x2="682.2" y2="403.06" stroke="#2b2b2b" stroke-width="1"/>
<text transform="translate(497.6 406.46) scale(1 1.0)" font-size="9.5" fill="#1a1a1a" stroke="#1a1a1a" stroke-width="0.12" text-anchor="end">3</text>
<line x1="501.85" y1="382.38" x2="503.85" y2="382.38" stroke="#2b2b2b" stroke-width="1"/>
<line x1="684.2" y1="382.38" x2="682.2" y2="382.38" stroke="#2b2b2b" stroke-width="1"/>
<text transform="translate(497.6 385.78) scale(1 1.0)" font-size="9.5" fill="#1a1a1a" stroke="#1a1a1a" stroke-width="0.12" text-anchor="end">4</text>
<line x1="501.85" y1="361.7" x2="503.85" y2="361.7" stroke="#2b2b2b" stroke-width="1"/>
<line x1="684.2" y1="361.7" x2="682.2" y2="361.7" stroke="#2b2b2b" stroke-width="1"/>
<text transform="translate(497.6 365.1) scale(1 1.0)" font-size="9.5" fill="#1a1a1a" stroke="#1a1a1a" stroke-width="0.12" text-anchor="end">5</text>
<text transform="translate(593.03 494.6) scale(1 1.0)" font-size="9.8" fill="#1a1a1a" stroke="#1a1a1a" stroke-width="0.12" text-anchor="middle">Current (mA)</text>
<text x="483.2" y="411.8" font-size="9.8" fill="#1a1a1a" stroke="#1a1a1a" stroke-width="0.12" text-anchor="middle" transform="rotate(-90 483.2 411.8)">Excess loss (dB)</text>
<path d="M501.85,470.3 L684.2,352.3" fill="none" stroke="#276aae" stroke-width="1.7" stroke-linejoin="round" clip-path="url(#ci)"/>
<g fill="#9c1c48" stroke="#3a0c1c" stroke-width="0.5">
<rect x="508.4" y="463.3" width="3.6" height="3.6"/>
<rect x="525.02" y="452.55" width="3.6" height="3.6"/>
<rect x="541.64" y="442.21" width="3.6" height="3.6"/>
<rect x="558.26" y="428.14" width="3.6" height="3.6"/>
<rect x="574.88" y="420.08" width="3.6" height="3.6"/>
<rect x="591.5" y="406.84" width="3.6" height="3.6"/>
<rect x="608.12" y="399.4" width="3.6" height="3.6"/>
<rect x="624.74" y="386.99" width="3.6" height="3.6"/>
<rect x="641.36" y="377.48" width="3.6" height="3.6"/>
<rect x="657.98" y="366.52" width="3.6" height="3.6"/>
<rect x="674.6" y="355.76" width="3.6" height="3.6"/>
</g>
<rect x="509.5" y="359.6" width="3.6" height="3.6" fill="#9c1c48" stroke="#3a0c1c" stroke-width="0.6"/>
<line x1="505.6" y1="370.5" x2="516.6" y2="370.5" stroke="#276aae" stroke-width="1.6"/>
<text x="520.6" y="364.4" font-size="8.3" fill="#1a1a1a" stroke="#1a1a1a" stroke-width="0.12">Measurement</text>
<text x="520.6" y="372.6" font-size="8.3" fill="#1a1a1a" stroke="#1a1a1a" stroke-width="0.12">Fit</text>
<text x="-0.2" y="10.4" font-size="14" fill="#000" stroke="#000" stroke-width="0" font-weight="bold">a</text>
<text x="232.2" y="10.4" font-size="14" fill="#000" stroke="#000" stroke-width="0" font-weight="bold">b</text>
<text x="469.8" y="10.4" font-size="14" fill="#000" stroke="#000" stroke-width="0" font-weight="bold">c</text>
<text x="-0.6" y="179" font-size="14" fill="#000" stroke="#000" stroke-width="0" font-weight="bold">d</text>
<text x="231.8" y="179.2" font-size="14" fill="#000" stroke="#000" stroke-width="0" font-weight="bold">e</text>
<text x="469.4" y="178.8" font-size="14" fill="#000" stroke="#000" stroke-width="0" font-weight="bold">f</text>
<text x="0" y="343.9" font-size="14" fill="#000" stroke="#000" stroke-width="0" font-weight="bold">g</text>
<text x="232.2" y="343.8" font-size="14" fill="#000" stroke="#000" stroke-width="0" font-weight="bold">h</text>
<text x="470.2" y="343.8" font-size="14" fill="#000" stroke="#000" stroke-width="0" font-weight="bold">i</text>
</svg>
</body></html>
